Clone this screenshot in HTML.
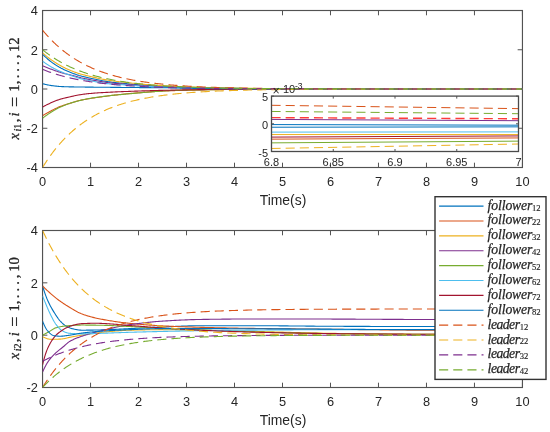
<!DOCTYPE html>
<html><head><meta charset="utf-8"><title>plot</title><style>
html,body{margin:0;padding:0;background:#fff;width:550px;height:432px;overflow:hidden}
svg{display:block;font-family:"Liberation Sans",Arial,sans-serif}
.tl{font-size:12.8px;fill:#262626}
.xl{font-size:13.9px;fill:#262626}
.yl{font-family:"Liberation Serif","DejaVu Serif",serif;font-size:14.6px;fill:#262626;stroke:#262626;stroke-width:0.3px}
.it{font-style:italic}
.ys{font-family:"Liberation Serif",serif;font-size:10.2px;fill:#262626;stroke:#262626;stroke-width:0.25px}
.eq{font-size:19px;stroke-width:0.15px}
.li{font-family:"Liberation Serif","DejaVu Serif",serif;font-style:italic;font-size:13.7px;fill:#262626;stroke:#262626;stroke-width:0.25px}
.sub{font-family:"Liberation Serif",serif;font-size:8.6px;fill:#262626;stroke:#262626;stroke-width:0.15px}
</style></head><body>
<svg width="550" height="432" viewBox="0 0 550 432">
<defs><clipPath id="ct"><rect x="42.55" y="10.50" width="479.90" height="157.00"/></clipPath>
<clipPath id="cb"><rect x="42.55" y="230.50" width="479.90" height="157.00"/></clipPath></defs>
<rect width="550" height="432" fill="#fff"/>
<path d="M42.55 167.50 V162.70 M42.55 10.50 V15.30 M90.54 167.50 V162.70 M90.54 10.50 V15.30 M138.53 167.50 V162.70 M138.53 10.50 V15.30 M186.52 167.50 V162.70 M186.52 10.50 V15.30 M234.51 167.50 V162.70 M234.51 10.50 V15.30 M282.50 167.50 V162.70 M282.50 10.50 V15.30 M330.49 167.50 V162.70 M330.49 10.50 V15.30 M378.48 167.50 V162.70 M378.48 10.50 V15.30 M426.47 167.50 V162.70 M426.47 10.50 V15.30 M474.46 167.50 V162.70 M474.46 10.50 V15.30 M522.45 167.50 V162.70 M522.45 10.50 V15.30 M42.55 10.50 H47.35 M522.45 10.50 H517.65 M42.55 49.75 H47.35 M522.45 49.75 H517.65 M42.55 89.00 H47.35 M522.45 89.00 H517.65 M42.55 128.25 H47.35 M522.45 128.25 H517.65 M42.55 167.50 H47.35 M522.45 167.50 H517.65" stroke="#525252" stroke-width="1" fill="none"/>
<rect x="42.55" y="10.50" width="479.90" height="157.00" fill="none" stroke="#525252" stroke-width="1.15"/>
<g fill="none" clip-path="url(#ct)" stroke-linejoin="round">
<path d="M42.55 54.26 L43.15 54.85 43.75 55.43 44.35 56.00 44.95 56.57 45.55 57.12 46.15 57.67 46.75 58.21 47.35 58.73 47.95 59.25 48.55 59.76 49.15 60.26 49.75 60.74 50.35 61.21 50.95 61.68 51.55 62.13 52.15 62.57 52.75 62.99 53.35 63.41 53.95 63.82 54.55 64.22 55.15 64.62 55.75 65.01 56.35 65.39 56.95 65.76 57.55 66.13 58.15 66.49 58.75 66.84 59.35 67.19 59.95 67.52 60.55 67.85 61.15 68.18 61.75 68.49 62.35 68.80 62.95 69.10 63.55 69.40 64.15 69.69 64.75 69.97 65.35 70.25 65.95 70.53 66.55 70.80 67.14 71.06 67.74 71.32 68.34 71.57 68.94 71.82 69.54 72.07 70.14 72.31 70.74 72.55 71.34 72.78 71.94 73.01 72.54 73.23 73.14 73.45 73.74 73.67 74.34 73.89 74.94 74.10 75.54 74.31 76.14 74.52 76.74 74.73 77.34 74.93 77.94 75.12 78.54 75.31 79.14 75.50 79.74 75.67 80.34 75.84 80.94 76.00 81.54 76.16 82.14 76.30 82.74 76.44 83.34 76.58 83.94 76.73 84.54 76.87 85.14 77.01 85.74 77.15 86.34 77.29 86.94 77.43 87.54 77.57 88.14 77.70 88.74 77.84 89.34 77.98 89.94 78.11 90.54 78.25 91.74 78.52 92.94 78.78 94.14 79.04 95.34 79.30 96.54 79.55 97.74 79.79 98.94 80.03 100.14 80.27 101.34 80.49 102.54 80.72 103.74 80.93 104.94 81.14 106.14 81.34 107.34 81.53 108.54 81.71 109.74 81.89 110.94 82.05 112.14 82.21 113.34 82.36 114.53 82.50 115.73 82.62 116.93 82.74 118.13 82.84 119.33 82.94 120.53 83.02 121.73 83.09 122.93 83.20 124.13 83.33 125.33 83.47 126.53 83.59 127.73 83.72 128.93 83.85 130.13 83.97 131.33 84.08 132.53 84.20 133.73 84.31 134.93 84.42 136.13 84.53 137.33 84.64 138.53 84.74 139.73 84.84 140.93 84.94 142.13 85.03 143.33 85.12 144.53 85.21 145.73 85.30 146.93 85.39 148.13 85.48 149.33 85.56 150.53 85.64 151.73 85.72 152.93 85.79 154.13 85.87 155.33 85.94 156.53 86.02 157.73 86.09 158.93 86.15 160.13 86.22 161.33 86.29 162.52 86.35 163.72 86.41 164.92 86.47 166.12 86.53 167.32 86.59 168.52 86.65 169.72 86.70 170.92 86.76 172.12 86.81 173.32 86.86 174.52 86.91 175.72 86.96 176.92 87.01 178.12 87.05 179.32 87.10 180.52 87.14 181.72 87.19 182.92 87.23 184.12 87.27 185.32 87.31 186.52 87.35 188.92 87.43 191.32 87.50 193.72 87.57 196.12 87.64 198.52 87.70 200.92 87.76 203.32 87.82 205.72 87.87 208.12 87.92 210.51 87.97 212.91 88.02 215.31 88.07 217.71 88.11 220.11 88.15 222.51 88.19 224.91 88.23 227.31 88.26 229.71 88.30 232.11 88.33 234.51 88.36 236.91 88.39 239.31 88.42 241.71 88.45 244.11 88.47 246.51 88.50 248.91 88.52 251.31 88.54 253.71 88.56 256.11 88.58 258.50 88.60 260.90 88.62 263.30 88.64 265.70 88.66 268.10 88.67 270.50 88.69 272.90 88.70 275.30 88.72 277.70 88.73 280.10 88.74 282.50 88.75 284.90 88.76 287.30 88.78 289.70 88.79 292.10 88.80 294.50 88.81 296.90 88.81 299.30 88.82 301.70 88.83 304.10 88.84 306.50 88.85 308.89 88.85 311.29 88.86 313.69 88.87 316.09 88.87 318.49 88.88 320.89 88.88 323.29 88.89 325.69 88.90 328.09 88.90 330.49 88.90 332.89 88.91 335.29 88.91 337.69 88.92 340.09 88.92 342.49 88.92 344.89 88.93 347.29 88.93 349.69 88.93 352.09 88.94 354.49 88.94 356.88 88.94 359.28 88.95 361.68 88.95 364.08 88.95 366.48 88.95 368.88 88.96 371.28 88.96 373.68 88.96 376.08 88.96 378.48 88.96 380.88 88.96 383.28 88.97 385.68 88.97 388.08 88.97 390.48 88.97 392.88 88.97 395.28 88.97 397.68 88.97 400.08 88.98 402.48 88.98 404.87 88.98 407.27 88.98 409.67 88.98 412.07 88.98 414.47 88.98 416.87 88.98 419.27 88.98 421.67 88.98 424.07 88.99 426.47 88.99 428.87 88.99 431.27 88.99 433.67 88.99 436.07 88.99 438.47 88.99 440.87 88.99 443.27 88.99 445.67 88.99 448.07 88.99 450.47 88.99 452.86 88.99 455.26 88.99 457.66 88.99 460.06 88.99 462.46 88.99 464.86 88.99 467.26 88.99 469.66 88.99 472.06 88.99 474.46 88.99 476.86 88.99 479.26 88.99 481.66 89.00 484.06 89.00 486.46 89.00 488.86 89.00 491.26 89.00 493.66 89.00 496.06 89.00 498.46 89.00 500.85 89.00 503.25 89.00 505.65 89.00 508.05 89.00 510.45 89.00 512.85 89.00 515.25 89.00 517.65 89.00 520.05 89.00 522.45 89.00" stroke="#0072BD" stroke-width="1.10"/>
<path d="M42.55 115.69 L43.15 115.32 43.75 114.96 44.35 114.60 44.95 114.25 45.55 113.89 46.15 113.54 46.75 113.20 47.35 112.86 47.95 112.52 48.55 112.19 49.15 111.86 49.75 111.54 50.35 111.22 50.95 110.91 51.55 110.60 52.15 110.29 52.75 109.98 53.35 109.67 53.95 109.37 54.55 109.07 55.15 108.77 55.75 108.48 56.35 108.19 56.95 107.91 57.55 107.63 58.15 107.36 58.75 107.10 59.35 106.85 59.95 106.61 60.55 106.37 61.15 106.15 61.75 105.93 62.35 105.72 62.95 105.51 63.55 105.31 64.15 105.11 64.75 104.92 65.35 104.73 65.95 104.55 66.55 104.36 67.14 104.18 67.74 103.99 68.34 103.81 68.94 103.62 69.54 103.44 70.14 103.25 70.74 103.06 71.34 102.87 71.94 102.67 72.54 102.48 73.14 102.28 73.74 102.09 74.34 101.90 74.94 101.71 75.54 101.52 76.14 101.34 76.74 101.17 77.34 101.00 77.94 100.84 78.54 100.69 79.14 100.55 79.74 100.42 80.34 100.28 80.94 100.16 81.54 100.03 82.14 99.91 82.74 99.79 83.34 99.67 83.94 99.56 84.54 99.45 85.14 99.34 85.74 99.23 86.34 99.13 86.94 99.03 87.54 98.93 88.14 98.83 88.74 98.73 89.34 98.63 89.94 98.54 90.54 98.45 91.74 98.26 92.94 98.08 94.14 97.90 95.34 97.72 96.54 97.54 97.74 97.37 98.94 97.19 100.14 97.02 101.34 96.85 102.54 96.68 103.74 96.52 104.94 96.35 106.14 96.19 107.34 96.03 108.54 95.87 109.74 95.72 110.94 95.57 112.14 95.42 113.34 95.27 114.53 95.12 115.73 94.98 116.93 94.84 118.13 94.70 119.33 94.57 120.53 94.44 121.73 94.31 122.93 94.18 124.13 94.06 125.33 93.94 126.53 93.82 127.73 93.71 128.93 93.60 130.13 93.49 131.33 93.39 132.53 93.28 133.73 93.18 134.93 93.08 136.13 92.98 137.33 92.87 138.53 92.78 139.73 92.68 140.93 92.58 142.13 92.49 143.33 92.39 144.53 92.30 145.73 92.21 146.93 92.12 148.13 92.03 149.33 91.94 150.53 91.86 151.73 91.78 152.93 91.70 154.13 91.62 155.33 91.54 156.53 91.46 157.73 91.39 158.93 91.32 160.13 91.25 161.33 91.18 162.52 91.12 163.72 91.06 164.92 91.00 166.12 90.94 167.32 90.89 168.52 90.83 169.72 90.79 170.92 90.74 172.12 90.70 173.32 90.66 174.52 90.61 175.72 90.57 176.92 90.54 178.12 90.50 179.32 90.46 180.52 90.42 181.72 90.39 182.92 90.36 184.12 90.32 185.32 90.29 186.52 90.26 188.92 90.20 191.32 90.14 193.72 90.08 196.12 90.03 198.52 89.98 200.92 89.93 203.32 89.89 205.72 89.84 208.12 89.80 210.51 89.76 212.91 89.73 215.31 89.69 217.71 89.66 220.11 89.62 222.51 89.59 224.91 89.56 227.31 89.54 229.71 89.51 232.11 89.49 234.51 89.46 236.91 89.44 239.31 89.42 241.71 89.40 244.11 89.38 246.51 89.36 248.91 89.34 251.31 89.33 253.71 89.31 256.11 89.29 258.50 89.28 260.90 89.27 263.30 89.25 265.70 89.24 268.10 89.23 270.50 89.22 272.90 89.21 275.30 89.20 277.70 89.19 280.10 89.18 282.50 89.17 284.90 89.16 287.30 89.15 289.70 89.15 292.10 89.14 294.50 89.13 296.90 89.13 299.30 89.12 301.70 89.11 304.10 89.11 306.50 89.10 308.89 89.10 311.29 89.09 313.69 89.09 316.09 89.08 318.49 89.08 320.89 89.08 323.29 89.07 325.69 89.07 328.09 89.07 330.49 89.06 332.89 89.06 335.29 89.06 337.69 89.05 340.09 89.05 342.49 89.05 344.89 89.05 347.29 89.04 349.69 89.04 352.09 89.04 354.49 89.04 356.88 89.04 359.28 89.03 361.68 89.03 364.08 89.03 366.48 89.03 368.88 89.03 371.28 89.03 373.68 89.03 376.08 89.02 378.48 89.02 380.88 89.02 383.28 89.02 385.68 89.02 388.08 89.02 390.48 89.02 392.88 89.02 395.28 89.02 397.68 89.02 400.08 89.01 402.48 89.01 404.87 89.01 407.27 89.01 409.67 89.01 412.07 89.01 414.47 89.01 416.87 89.01 419.27 89.01 421.67 89.01 424.07 89.01 426.47 89.01 428.87 89.01 431.27 89.01 433.67 89.01 436.07 89.01 438.47 89.01 440.87 89.01 443.27 89.01 445.67 89.01 448.07 89.01 450.47 89.01 452.86 89.00 455.26 89.00 457.66 89.00 460.06 89.00 462.46 89.00 464.86 89.00 467.26 89.00 469.66 89.00 472.06 89.00 474.46 89.00 476.86 89.00 479.26 89.00 481.66 89.00 484.06 89.00 486.46 89.00 488.86 89.00 491.26 89.00 493.66 89.00 496.06 89.00 498.46 89.00 500.85 89.00 503.25 89.00 505.65 89.00 508.05 89.00 510.45 89.00 512.85 89.00 515.25 89.00 517.65 89.00 520.05 89.00 522.45 89.00" stroke="#D95319" stroke-width="1.10"/>
<path d="M42.55 52.89 L43.15 53.41 43.75 53.92 44.35 54.43 44.95 54.93 45.55 55.42 46.15 55.91 46.75 56.39 47.35 56.87 47.95 57.33 48.55 57.80 49.15 58.25 49.75 58.70 50.35 59.14 50.95 59.57 51.55 60.00 52.15 60.41 52.75 60.82 53.35 61.23 53.95 61.63 54.55 62.02 55.15 62.41 55.75 62.80 56.35 63.18 56.95 63.55 57.55 63.92 58.15 64.28 58.75 64.64 59.35 64.99 59.95 65.33 60.55 65.67 61.15 66.00 61.75 66.32 62.35 66.64 62.95 66.95 63.55 67.25 64.15 67.55 64.75 67.85 65.35 68.14 65.95 68.42 66.55 68.70 67.14 68.98 67.74 69.25 68.34 69.52 68.94 69.78 69.54 70.04 70.14 70.29 70.74 70.54 71.34 70.79 71.94 71.02 72.54 71.26 73.14 71.49 73.74 71.71 74.34 71.94 74.94 72.16 75.54 72.38 76.14 72.59 76.74 72.80 77.34 73.01 77.94 73.21 78.54 73.41 79.14 73.60 79.74 73.78 80.34 73.96 80.94 74.12 81.54 74.29 82.14 74.44 82.74 74.59 83.34 74.74 83.94 74.90 84.54 75.05 85.14 75.20 85.74 75.35 86.34 75.50 86.94 75.64 87.54 75.79 88.14 75.94 88.74 76.09 89.34 76.23 89.94 76.38 90.54 76.52 91.74 76.81 92.94 77.09 94.14 77.37 95.34 77.64 96.54 77.91 97.74 78.18 98.94 78.44 100.14 78.69 101.34 78.94 102.54 79.18 103.74 79.41 104.94 79.64 106.14 79.86 107.34 80.07 108.54 80.27 109.74 80.47 110.94 80.66 112.14 80.83 113.34 81.00 114.53 81.16 115.73 81.31 116.93 81.45 118.13 81.58 119.33 81.70 120.53 81.81 121.73 81.90 122.93 82.03 124.13 82.18 125.33 82.34 126.53 82.48 127.73 82.63 128.93 82.77 130.13 82.91 131.33 83.05 132.53 83.18 133.73 83.31 134.93 83.43 136.13 83.56 137.33 83.68 138.53 83.80 139.73 83.91 140.93 84.03 142.13 84.14 143.33 84.25 144.53 84.35 145.73 84.45 146.93 84.56 148.13 84.65 149.33 84.75 150.53 84.85 151.73 84.94 152.93 85.03 154.13 85.12 155.33 85.20 156.53 85.29 157.73 85.37 158.93 85.45 160.13 85.53 161.33 85.61 162.52 85.68 163.72 85.76 164.92 85.83 166.12 85.90 167.32 85.97 168.52 86.04 169.72 86.10 170.92 86.17 172.12 86.23 173.32 86.29 174.52 86.35 175.72 86.41 176.92 86.47 178.12 86.52 179.32 86.58 180.52 86.63 181.72 86.69 182.92 86.74 184.12 86.79 185.32 86.84 186.52 86.88 188.92 86.98 191.32 87.07 193.72 87.15 196.12 87.23 198.52 87.31 200.92 87.39 203.32 87.46 205.72 87.52 208.12 87.59 210.51 87.65 212.91 87.71 215.31 87.77 217.71 87.82 220.11 87.87 222.51 87.92 224.91 87.97 227.31 88.02 229.71 88.06 232.11 88.10 234.51 88.14 236.91 88.18 239.31 88.21 241.71 88.25 244.11 88.28 246.51 88.31 248.91 88.34 251.31 88.37 253.71 88.40 256.11 88.43 258.50 88.45 260.90 88.48 263.30 88.50 265.70 88.52 268.10 88.54 270.50 88.56 272.90 88.58 275.30 88.60 277.70 88.62 280.10 88.63 282.50 88.65 284.90 88.67 287.30 88.68 289.70 88.69 292.10 88.71 294.50 88.72 296.90 88.73 299.30 88.74 301.70 88.76 304.10 88.77 306.50 88.78 308.89 88.79 311.29 88.80 313.69 88.81 316.09 88.81 318.49 88.82 320.89 88.83 323.29 88.84 325.69 88.84 328.09 88.85 330.49 88.86 332.89 88.86 335.29 88.87 337.69 88.88 340.09 88.88 342.49 88.89 344.89 88.89 347.29 88.90 349.69 88.90 352.09 88.91 354.49 88.91 356.88 88.91 359.28 88.92 361.68 88.92 364.08 88.92 366.48 88.93 368.88 88.93 371.28 88.93 373.68 88.94 376.08 88.94 378.48 88.94 380.88 88.94 383.28 88.95 385.68 88.95 388.08 88.95 390.48 88.95 392.88 88.96 395.28 88.96 397.68 88.96 400.08 88.96 402.48 88.96 404.87 88.96 407.27 88.97 409.67 88.97 412.07 88.97 414.47 88.97 416.87 88.97 419.27 88.97 421.67 88.97 424.07 88.98 426.47 88.98 428.87 88.98 431.27 88.98 433.67 88.98 436.07 88.98 438.47 88.98 440.87 88.98 443.27 88.98 445.67 88.98 448.07 88.98 450.47 88.99 452.86 88.99 455.26 88.99 457.66 88.99 460.06 88.99 462.46 88.99 464.86 88.99 467.26 88.99 469.66 88.99 472.06 88.99 474.46 88.99 476.86 88.99 479.26 88.99 481.66 88.99 484.06 88.99 486.46 88.99 488.86 88.99 491.26 88.99 493.66 88.99 496.06 88.99 498.46 88.99 500.85 88.99 503.25 88.99 505.65 88.99 508.05 88.99 510.45 89.00 512.85 89.00 515.25 89.00 517.65 89.00 520.05 89.00 522.45 89.00" stroke="#EDB120" stroke-width="1.10"/>
<path d="M42.55 65.84 L43.15 66.09 43.75 66.34 44.35 66.58 44.95 66.82 45.55 67.06 46.15 67.30 46.75 67.54 47.35 67.77 47.95 68.00 48.55 68.23 49.15 68.46 49.75 68.69 50.35 68.91 50.95 69.13 51.55 69.35 52.15 69.57 52.75 69.79 53.35 70.00 53.95 70.22 54.55 70.43 55.15 70.65 55.75 70.86 56.35 71.07 56.95 71.28 57.55 71.48 58.15 71.69 58.75 71.89 59.35 72.08 59.95 72.28 60.55 72.46 61.15 72.65 61.75 72.83 62.35 73.00 62.95 73.17 63.55 73.33 64.15 73.49 64.75 73.64 65.35 73.79 65.95 73.94 66.55 74.08 67.14 74.22 67.74 74.36 68.34 74.49 68.94 74.63 69.54 74.77 70.14 74.90 70.74 75.04 71.34 75.18 71.94 75.33 72.54 75.47 73.14 75.62 73.74 75.78 74.34 75.94 74.94 76.11 75.54 76.29 76.14 76.46 76.74 76.64 77.34 76.82 77.94 77.00 78.54 77.17 79.14 77.34 79.74 77.50 80.34 77.65 80.94 77.80 81.54 77.93 82.14 78.06 82.74 78.18 83.34 78.30 83.94 78.42 84.54 78.54 85.14 78.67 85.74 78.79 86.34 78.91 86.94 79.02 87.54 79.14 88.14 79.26 88.74 79.38 89.34 79.50 89.94 79.61 90.54 79.73 91.74 79.96 92.94 80.19 94.14 80.41 95.34 80.63 96.54 80.84 97.74 81.05 98.94 81.26 100.14 81.46 101.34 81.65 102.54 81.84 103.74 82.03 104.94 82.21 106.14 82.38 107.34 82.54 108.54 82.70 109.74 82.85 110.94 82.99 112.14 83.13 113.34 83.25 114.53 83.37 115.73 83.48 116.93 83.58 118.13 83.67 119.33 83.75 120.53 83.82 121.73 83.88 122.93 83.97 124.13 84.09 125.33 84.20 126.53 84.32 127.73 84.43 128.93 84.53 130.13 84.64 131.33 84.74 132.53 84.84 133.73 84.94 134.93 85.03 136.13 85.13 137.33 85.22 138.53 85.31 139.73 85.39 140.93 85.48 142.13 85.56 143.33 85.64 144.53 85.72 145.73 85.80 146.93 85.87 148.13 85.95 149.33 86.02 150.53 86.09 151.73 86.16 152.93 86.22 154.13 86.29 155.33 86.35 156.53 86.41 157.73 86.47 158.93 86.53 160.13 86.59 161.33 86.65 162.52 86.70 163.72 86.76 164.92 86.81 166.12 86.86 167.32 86.91 168.52 86.96 169.72 87.01 170.92 87.05 172.12 87.10 173.32 87.14 174.52 87.19 175.72 87.23 176.92 87.27 178.12 87.31 179.32 87.35 180.52 87.39 181.72 87.43 182.92 87.47 184.12 87.50 185.32 87.54 186.52 87.57 188.92 87.64 191.32 87.70 193.72 87.76 196.12 87.82 198.52 87.87 200.92 87.93 203.32 87.98 205.72 88.02 208.12 88.07 210.51 88.11 212.91 88.15 215.31 88.19 217.71 88.23 220.11 88.27 222.51 88.30 224.91 88.33 227.31 88.36 229.71 88.39 232.11 88.42 234.51 88.45 236.91 88.47 239.31 88.50 241.71 88.52 244.11 88.54 246.51 88.56 248.91 88.58 251.31 88.60 253.71 88.62 256.11 88.64 258.50 88.66 260.90 88.67 263.30 88.69 265.70 88.70 268.10 88.72 270.50 88.73 272.90 88.74 275.30 88.75 277.70 88.77 280.10 88.78 282.50 88.79 284.90 88.80 287.30 88.81 289.70 88.81 292.10 88.82 294.50 88.83 296.90 88.84 299.30 88.85 301.70 88.85 304.10 88.86 306.50 88.87 308.89 88.87 311.29 88.88 313.69 88.88 316.09 88.89 318.49 88.90 320.89 88.90 323.29 88.90 325.69 88.91 328.09 88.91 330.49 88.92 332.89 88.92 335.29 88.92 337.69 88.93 340.09 88.93 342.49 88.93 344.89 88.94 347.29 88.94 349.69 88.94 352.09 88.95 354.49 88.95 356.88 88.95 359.28 88.95 361.68 88.96 364.08 88.96 366.48 88.96 368.88 88.96 371.28 88.96 373.68 88.96 376.08 88.97 378.48 88.97 380.88 88.97 383.28 88.97 385.68 88.97 388.08 88.97 390.48 88.97 392.88 88.98 395.28 88.98 397.68 88.98 400.08 88.98 402.48 88.98 404.87 88.98 407.27 88.98 409.67 88.98 412.07 88.98 414.47 88.98 416.87 88.99 419.27 88.99 421.67 88.99 424.07 88.99 426.47 88.99 428.87 88.99 431.27 88.99 433.67 88.99 436.07 88.99 438.47 88.99 440.87 88.99 443.27 88.99 445.67 88.99 448.07 88.99 450.47 88.99 452.86 88.99 455.26 88.99 457.66 88.99 460.06 88.99 462.46 88.99 464.86 88.99 467.26 88.99 469.66 88.99 472.06 88.99 474.46 89.00 476.86 89.00 479.26 89.00 481.66 89.00 484.06 89.00 486.46 89.00 488.86 89.00 491.26 89.00 493.66 89.00 496.06 89.00 498.46 89.00 500.85 89.00 503.25 89.00 505.65 89.00 508.05 89.00 510.45 89.00 512.85 89.00 515.25 89.00 517.65 89.00 520.05 89.00 522.45 89.00" stroke="#7E2F8E" stroke-width="1.10"/>
<path d="M42.55 118.24 L43.15 117.78 43.75 117.32 44.35 116.87 44.95 116.42 45.55 115.98 46.15 115.55 46.75 115.12 47.35 114.70 47.95 114.28 48.55 113.88 49.15 113.47 49.75 113.08 50.35 112.69 50.95 112.31 51.55 111.93 52.15 111.56 52.75 111.19 53.35 110.83 53.95 110.47 54.55 110.11 55.15 109.76 55.75 109.42 56.35 109.08 56.95 108.75 57.55 108.43 58.15 108.11 58.75 107.81 59.35 107.51 59.95 107.22 60.55 106.95 61.15 106.67 61.75 106.41 62.35 106.14 62.95 105.89 63.55 105.64 64.15 105.39 64.75 105.15 65.35 104.91 65.95 104.68 66.55 104.46 67.14 104.24 67.74 104.03 68.34 103.83 68.94 103.63 69.54 103.44 70.14 103.25 70.74 103.07 71.34 102.89 71.94 102.71 72.54 102.53 73.14 102.36 73.74 102.19 74.34 102.02 74.94 101.85 75.54 101.68 76.14 101.51 76.74 101.35 77.34 101.19 77.94 101.03 78.54 100.88 79.14 100.72 79.74 100.57 80.34 100.42 80.94 100.27 81.54 100.13 82.14 99.98 82.74 99.84 83.34 99.71 83.94 99.57 84.54 99.44 85.14 99.31 85.74 99.18 86.34 99.06 86.94 98.94 87.54 98.82 88.14 98.70 88.74 98.59 89.34 98.48 89.94 98.37 90.54 98.27 91.74 98.07 92.94 97.88 94.14 97.69 95.34 97.51 96.54 97.34 97.74 97.17 98.94 97.00 100.14 96.84 101.34 96.68 102.54 96.53 103.74 96.38 104.94 96.23 106.14 96.09 107.34 95.95 108.54 95.82 109.74 95.68 110.94 95.55 112.14 95.42 113.34 95.30 114.53 95.17 115.73 95.05 116.93 94.93 118.13 94.82 119.33 94.70 120.53 94.58 121.73 94.47 122.93 94.36 124.13 94.24 125.33 94.13 126.53 94.02 127.73 93.91 128.93 93.80 130.13 93.69 131.33 93.58 132.53 93.47 133.73 93.36 134.93 93.25 136.13 93.14 137.33 93.04 138.53 92.93 139.73 92.83 140.93 92.72 142.13 92.62 143.33 92.52 144.53 92.42 145.73 92.32 146.93 92.22 148.13 92.12 149.33 92.03 150.53 91.93 151.73 91.84 152.93 91.75 154.13 91.66 155.33 91.57 156.53 91.48 157.73 91.39 158.93 91.31 160.13 91.22 161.33 91.14 162.52 91.06 163.72 90.98 164.92 90.90 166.12 90.82 167.32 90.75 168.52 90.67 169.72 90.60 170.92 90.55 172.12 90.51 173.32 90.47 174.52 90.43 175.72 90.40 176.92 90.36 178.12 90.33 179.32 90.30 180.52 90.27 181.72 90.24 182.92 90.20 184.12 90.17 185.32 90.15 186.52 90.12 188.92 90.06 191.32 90.01 193.72 89.96 196.12 89.91 198.52 89.87 200.92 89.83 203.32 89.79 205.72 89.75 208.12 89.71 210.51 89.68 212.91 89.64 215.31 89.61 217.71 89.58 220.11 89.55 222.51 89.53 224.91 89.50 227.31 89.48 229.71 89.45 232.11 89.43 234.51 89.41 236.91 89.39 239.31 89.37 241.71 89.35 244.11 89.34 246.51 89.32 248.91 89.30 251.31 89.29 253.71 89.28 256.11 89.26 258.50 89.25 260.90 89.24 263.30 89.23 265.70 89.21 268.10 89.20 270.50 89.19 272.90 89.18 275.30 89.18 277.70 89.17 280.10 89.16 282.50 89.15 284.90 89.14 287.30 89.14 289.70 89.13 292.10 89.12 294.50 89.12 296.90 89.11 299.30 89.11 301.70 89.10 304.10 89.10 306.50 89.09 308.89 89.09 311.29 89.08 313.69 89.08 316.09 89.08 318.49 89.07 320.89 89.07 323.29 89.06 325.69 89.06 328.09 89.06 330.49 89.06 332.89 89.05 335.29 89.05 337.69 89.05 340.09 89.05 342.49 89.04 344.89 89.04 347.29 89.04 349.69 89.04 352.09 89.04 354.49 89.03 356.88 89.03 359.28 89.03 361.68 89.03 364.08 89.03 366.48 89.03 368.88 89.02 371.28 89.02 373.68 89.02 376.08 89.02 378.48 89.02 380.88 89.02 383.28 89.02 385.68 89.02 388.08 89.02 390.48 89.02 392.88 89.02 395.28 89.01 397.68 89.01 400.08 89.01 402.48 89.01 404.87 89.01 407.27 89.01 409.67 89.01 412.07 89.01 414.47 89.01 416.87 89.01 419.27 89.01 421.67 89.01 424.07 89.01 426.47 89.01 428.87 89.01 431.27 89.01 433.67 89.01 436.07 89.01 438.47 89.01 440.87 89.01 443.27 89.01 445.67 89.01 448.07 89.00 450.47 89.00 452.86 89.00 455.26 89.00 457.66 89.00 460.06 89.00 462.46 89.00 464.86 89.00 467.26 89.00 469.66 89.00 472.06 89.00 474.46 89.00 476.86 89.00 479.26 89.00 481.66 89.00 484.06 89.00 486.46 89.00 488.86 89.00 491.26 89.00 493.66 89.00 496.06 89.00 498.46 89.00 500.85 89.00 503.25 89.00 505.65 89.00 508.05 89.00 510.45 89.00 512.85 89.00 515.25 89.00 517.65 89.00 520.05 89.00 522.45 89.00" stroke="#77AC30" stroke-width="1.10"/>
<path d="M42.55 61.13 L43.15 61.57 43.75 62.01 44.35 62.43 44.95 62.86 45.55 63.27 46.15 63.68 46.75 64.09 47.35 64.49 47.95 64.88 48.55 65.26 49.15 65.64 49.75 66.01 50.35 66.37 50.95 66.73 51.55 67.07 52.15 67.41 52.75 67.74 53.35 68.07 53.95 68.39 54.55 68.71 55.15 69.02 55.75 69.33 56.35 69.63 56.95 69.93 57.55 70.22 58.15 70.51 58.75 70.79 59.35 71.06 59.95 71.33 60.55 71.60 61.15 71.86 61.75 72.12 62.35 72.37 62.95 72.61 63.55 72.85 64.15 73.09 64.75 73.31 65.35 73.54 65.95 73.76 66.55 73.97 67.14 74.19 67.74 74.39 68.34 74.60 68.94 74.80 69.54 75.01 70.14 75.21 70.74 75.41 71.34 75.61 71.94 75.80 72.54 76.00 73.14 76.20 73.74 76.41 74.34 76.61 74.94 76.82 75.54 77.04 76.14 77.25 76.74 77.46 77.34 77.67 77.94 77.87 78.54 78.07 79.14 78.26 79.74 78.44 80.34 78.61 80.94 78.77 81.54 78.91 82.14 79.04 82.74 79.17 83.34 79.30 83.94 79.43 84.54 79.55 85.14 79.68 85.74 79.81 86.34 79.93 86.94 80.06 87.54 80.18 88.14 80.31 88.74 80.43 89.34 80.56 89.94 80.68 90.54 80.80 91.74 81.04 92.94 81.28 94.14 81.51 95.34 81.74 96.54 81.96 97.74 82.18 98.94 82.39 100.14 82.60 101.34 82.80 102.54 82.99 103.74 83.17 104.94 83.34 106.14 83.51 107.34 83.67 108.54 83.82 109.74 83.95 110.94 84.08 112.14 84.20 113.34 84.30 114.53 84.39 115.73 84.48 116.93 84.54 118.13 84.60 119.33 84.64 120.53 84.67 121.73 84.68 122.93 84.75 124.13 84.85 125.33 84.95 126.53 85.05 127.73 85.15 128.93 85.25 130.13 85.34 131.33 85.43 132.53 85.52 133.73 85.60 134.93 85.69 136.13 85.77 137.33 85.85 138.53 85.93 139.73 86.00 140.93 86.08 142.13 86.15 143.33 86.22 144.53 86.29 145.73 86.35 146.93 86.42 148.13 86.48 149.33 86.55 150.53 86.61 151.73 86.67 152.93 86.72 154.13 86.78 155.33 86.83 156.53 86.89 157.73 86.94 158.93 86.99 160.13 87.04 161.33 87.09 162.52 87.14 163.72 87.18 164.92 87.23 166.12 87.27 167.32 87.31 168.52 87.36 169.72 87.40 170.92 87.44 172.12 87.47 173.32 87.51 174.52 87.55 175.72 87.58 176.92 87.62 178.12 87.65 179.32 87.69 180.52 87.72 181.72 87.75 182.92 87.78 184.12 87.81 185.32 87.84 186.52 87.87 188.92 87.92 191.32 87.98 193.72 88.03 196.12 88.07 198.52 88.12 200.92 88.16 203.32 88.20 205.72 88.24 208.12 88.28 210.51 88.31 212.91 88.35 215.31 88.38 217.71 88.41 220.11 88.44 222.51 88.47 224.91 88.49 227.31 88.52 229.71 88.54 232.11 88.56 234.51 88.58 236.91 88.60 239.31 88.62 241.71 88.64 244.11 88.66 246.51 88.68 248.91 88.69 251.31 88.71 253.71 88.72 256.11 88.73 258.50 88.75 260.90 88.76 263.30 88.77 265.70 88.78 268.10 88.79 270.50 88.80 272.90 88.81 275.30 88.82 277.70 88.83 280.10 88.84 282.50 88.85 284.90 88.85 287.30 88.86 289.70 88.87 292.10 88.87 294.50 88.88 296.90 88.89 299.30 88.89 301.70 88.90 304.10 88.90 306.50 88.91 308.89 88.91 311.29 88.92 313.69 88.92 316.09 88.92 318.49 88.93 320.89 88.93 323.29 88.93 325.69 88.94 328.09 88.94 330.49 88.94 332.89 88.95 335.29 88.95 337.69 88.95 340.09 88.95 342.49 88.96 344.89 88.96 347.29 88.96 349.69 88.96 352.09 88.96 354.49 88.97 356.88 88.97 359.28 88.97 361.68 88.97 364.08 88.97 366.48 88.97 368.88 88.97 371.28 88.98 373.68 88.98 376.08 88.98 378.48 88.98 380.88 88.98 383.28 88.98 385.68 88.98 388.08 88.98 390.48 88.98 392.88 88.98 395.28 88.99 397.68 88.99 400.08 88.99 402.48 88.99 404.87 88.99 407.27 88.99 409.67 88.99 412.07 88.99 414.47 88.99 416.87 88.99 419.27 88.99 421.67 88.99 424.07 88.99 426.47 88.99 428.87 88.99 431.27 88.99 433.67 88.99 436.07 88.99 438.47 88.99 440.87 88.99 443.27 88.99 445.67 88.99 448.07 89.00 450.47 89.00 452.86 89.00 455.26 89.00 457.66 89.00 460.06 89.00 462.46 89.00 464.86 89.00 467.26 89.00 469.66 89.00 472.06 89.00 474.46 89.00 476.86 89.00 479.26 89.00 481.66 89.00 484.06 89.00 486.46 89.00 488.86 89.00 491.26 89.00 493.66 89.00 496.06 89.00 498.46 89.00 500.85 89.00 503.25 89.00 505.65 89.00 508.05 89.00 510.45 89.00 512.85 89.00 515.25 89.00 517.65 89.00 520.05 89.00 522.45 89.00" stroke="#4DBEEE" stroke-width="1.10"/>
<path d="M42.55 107.05 L43.15 106.72 43.75 106.40 44.35 106.08 44.95 105.76 45.55 105.44 46.15 105.13 46.75 104.83 47.35 104.53 47.95 104.24 48.55 103.95 49.15 103.66 49.75 103.38 50.35 103.11 50.95 102.84 51.55 102.58 52.15 102.32 52.75 102.06 53.35 101.80 53.95 101.55 54.55 101.30 55.15 101.06 55.75 100.82 56.35 100.58 56.95 100.35 57.55 100.13 58.15 99.91 58.75 99.71 59.35 99.51 59.95 99.32 60.55 99.13 61.15 98.96 61.75 98.79 62.35 98.63 62.95 98.47 63.55 98.32 64.15 98.17 64.75 98.03 65.35 97.89 65.95 97.75 66.55 97.61 67.14 97.47 67.74 97.34 68.34 97.20 68.94 97.07 69.54 96.93 70.14 96.79 70.74 96.66 71.34 96.51 71.94 96.37 72.54 96.23 73.14 96.09 73.74 95.95 74.34 95.81 74.94 95.68 75.54 95.55 76.14 95.42 76.74 95.30 77.34 95.18 77.94 95.07 78.54 94.97 79.14 94.87 79.74 94.78 80.34 94.68 80.94 94.59 81.54 94.51 82.14 94.42 82.74 94.33 83.34 94.25 83.94 94.17 84.54 94.09 85.14 94.02 85.74 93.94 86.34 93.87 86.94 93.80 87.54 93.74 88.14 93.67 88.74 93.61 89.34 93.55 89.94 93.49 90.54 93.44 91.74 93.34 92.94 93.24 94.14 93.15 95.34 93.07 96.54 92.98 97.74 92.90 98.94 92.82 100.14 92.75 101.34 92.67 102.54 92.60 103.74 92.53 104.94 92.46 106.14 92.39 107.34 92.33 108.54 92.27 109.74 92.21 110.94 92.15 112.14 92.09 113.34 92.03 114.53 91.98 115.73 91.92 116.93 91.87 118.13 91.82 119.33 91.77 120.53 91.72 121.73 91.67 122.93 91.62 124.13 91.57 125.33 91.53 126.53 91.48 127.73 91.44 128.93 91.39 130.13 91.35 131.33 91.30 132.53 91.26 133.73 91.21 134.93 91.17 136.13 91.13 137.33 91.08 138.53 91.04 139.73 91.00 140.93 90.96 142.13 90.92 143.33 90.88 144.53 90.84 145.73 90.80 146.93 90.76 148.13 90.72 149.33 90.69 150.53 90.65 151.73 90.62 152.93 90.58 154.13 90.55 155.33 90.51 156.53 90.48 157.73 90.45 158.93 90.42 160.13 90.39 161.33 90.36 162.52 90.33 163.72 90.31 164.92 90.28 166.12 90.26 167.32 90.23 168.52 90.21 169.72 90.19 170.92 90.16 172.12 90.13 173.32 90.10 174.52 90.08 175.72 90.05 176.92 90.02 178.12 90.00 179.32 89.97 180.52 89.95 181.72 89.93 182.92 89.90 184.12 89.88 185.32 89.86 186.52 89.84 188.92 89.80 191.32 89.76 193.72 89.72 196.12 89.69 198.52 89.65 200.92 89.62 203.32 89.59 205.72 89.56 208.12 89.53 210.51 89.51 212.91 89.48 215.31 89.46 217.71 89.44 220.11 89.42 222.51 89.40 224.91 89.38 227.31 89.36 229.71 89.34 232.11 89.32 234.51 89.31 236.91 89.29 239.31 89.28 241.71 89.27 244.11 89.25 246.51 89.24 248.91 89.23 251.31 89.22 253.71 89.21 256.11 89.20 258.50 89.19 260.90 89.18 263.30 89.17 265.70 89.16 268.10 89.15 270.50 89.15 272.90 89.14 275.30 89.13 277.70 89.13 280.10 89.12 282.50 89.11 284.90 89.11 287.30 89.10 289.70 89.10 292.10 89.09 294.50 89.09 296.90 89.08 299.30 89.08 301.70 89.08 304.10 89.07 306.50 89.07 308.89 89.07 311.29 89.06 313.69 89.06 316.09 89.06 318.49 89.05 320.89 89.05 323.29 89.05 325.69 89.05 328.09 89.04 330.49 89.04 332.89 89.04 335.29 89.04 337.69 89.04 340.09 89.03 342.49 89.03 344.89 89.03 347.29 89.03 349.69 89.03 352.09 89.03 354.49 89.03 356.88 89.02 359.28 89.02 361.68 89.02 364.08 89.02 366.48 89.02 368.88 89.02 371.28 89.02 373.68 89.02 376.08 89.02 378.48 89.02 380.88 89.01 383.28 89.01 385.68 89.01 388.08 89.01 390.48 89.01 392.88 89.01 395.28 89.01 397.68 89.01 400.08 89.01 402.48 89.01 404.87 89.01 407.27 89.01 409.67 89.01 412.07 89.01 414.47 89.01 416.87 89.01 419.27 89.01 421.67 89.01 424.07 89.01 426.47 89.01 428.87 89.01 431.27 89.01 433.67 89.00 436.07 89.00 438.47 89.00 440.87 89.00 443.27 89.00 445.67 89.00 448.07 89.00 450.47 89.00 452.86 89.00 455.26 89.00 457.66 89.00 460.06 89.00 462.46 89.00 464.86 89.00 467.26 89.00 469.66 89.00 472.06 89.00 474.46 89.00 476.86 89.00 479.26 89.00 481.66 89.00 484.06 89.00 486.46 89.00 488.86 89.00 491.26 89.00 493.66 89.00 496.06 89.00 498.46 89.00 500.85 89.00 503.25 89.00 505.65 89.00 508.05 89.00 510.45 89.00 512.85 89.00 515.25 89.00 517.65 89.00 520.05 89.00 522.45 89.00" stroke="#A2142F" stroke-width="1.10"/>
<path d="M42.55 83.70 L43.15 83.85 43.75 84.01 44.35 84.15 44.95 84.30 45.55 84.44 46.15 84.58 46.75 84.71 47.35 84.84 47.95 84.96 48.55 85.08 49.15 85.19 49.75 85.30 50.35 85.40 50.95 85.50 51.55 85.58 52.15 85.66 52.75 85.74 53.35 85.82 53.95 85.89 54.55 85.96 55.15 86.03 55.75 86.10 56.35 86.17 56.95 86.23 57.55 86.29 58.15 86.35 58.75 86.40 59.35 86.45 59.95 86.49 60.55 86.53 61.15 86.57 61.75 86.60 62.35 86.63 62.95 86.65 63.55 86.67 64.15 86.69 64.75 86.71 65.35 86.73 65.95 86.75 66.55 86.77 67.14 86.78 67.74 86.80 68.34 86.81 68.94 86.83 69.54 86.84 70.14 86.85 70.74 86.86 71.34 86.88 71.94 86.89 72.54 86.90 73.14 86.91 73.74 86.92 74.34 86.93 74.94 86.94 75.54 86.95 76.14 86.96 76.74 86.97 77.34 86.97 77.94 86.98 78.54 86.99 79.14 87.00 79.74 87.01 80.34 87.02 80.94 87.02 81.54 87.03 82.14 87.04 82.74 87.05 83.34 87.06 83.94 87.06 84.54 87.07 85.14 87.08 85.74 87.09 86.34 87.10 86.94 87.10 87.54 87.11 88.14 87.12 88.74 87.12 89.34 87.13 89.94 87.14 90.54 87.14 91.74 87.16 92.94 87.17 94.14 87.18 95.34 87.19 96.54 87.21 97.74 87.22 98.94 87.23 100.14 87.24 101.34 87.25 102.54 87.26 103.74 87.27 104.94 87.28 106.14 87.29 107.34 87.30 108.54 87.31 109.74 87.32 110.94 87.33 112.14 87.34 113.34 87.35 114.53 87.36 115.73 87.37 116.93 87.38 118.13 87.39 119.33 87.40 120.53 87.42 121.73 87.43 122.93 87.44 124.13 87.45 125.33 87.46 126.53 87.47 127.73 87.48 128.93 87.49 130.13 87.50 131.33 87.51 132.53 87.52 133.73 87.53 134.93 87.54 136.13 87.55 137.33 87.56 138.53 87.57 139.73 87.58 140.93 87.59 142.13 87.60 143.33 87.61 144.53 87.62 145.73 87.63 146.93 87.64 148.13 87.65 149.33 87.66 150.53 87.67 151.73 87.68 152.93 87.69 154.13 87.70 155.33 87.71 156.53 87.72 157.73 87.73 158.93 87.74 160.13 87.75 161.33 87.76 162.52 87.77 163.72 87.77 164.92 87.78 166.12 87.79 167.32 87.80 168.52 87.81 169.72 87.82 170.92 87.84 172.12 87.88 173.32 87.91 174.52 87.94 175.72 87.97 176.92 88.00 178.12 88.03 179.32 88.06 180.52 88.09 181.72 88.12 182.92 88.14 184.12 88.17 185.32 88.19 186.52 88.22 188.92 88.26 191.32 88.31 193.72 88.35 196.12 88.38 198.52 88.42 200.92 88.45 203.32 88.49 205.72 88.52 208.12 88.54 210.51 88.57 212.91 88.60 215.31 88.62 217.71 88.64 220.11 88.66 222.51 88.68 224.91 88.70 227.31 88.72 229.71 88.73 232.11 88.75 234.51 88.76 236.91 88.78 239.31 88.79 241.71 88.80 244.11 88.81 246.51 88.83 248.91 88.84 251.31 88.85 253.71 88.85 256.11 88.86 258.50 88.87 260.90 88.88 263.30 88.89 265.70 88.89 268.10 88.90 270.50 88.90 272.90 88.91 275.30 88.91 277.70 88.92 280.10 88.92 282.50 88.93 284.90 88.93 287.30 88.94 289.70 88.94 292.10 88.94 294.50 88.95 296.90 88.95 299.30 88.95 301.70 88.96 304.10 88.96 306.50 88.96 308.89 88.96 311.29 88.97 313.69 88.97 316.09 88.97 318.49 88.97 320.89 88.97 323.29 88.97 325.69 88.98 328.09 88.98 330.49 88.98 332.89 88.98 335.29 88.98 337.69 88.98 340.09 88.98 342.49 88.98 344.89 88.99 347.29 88.99 349.69 88.99 352.09 88.99 354.49 88.99 356.88 88.99 359.28 88.99 361.68 88.99 364.08 88.99 366.48 88.99 368.88 88.99 371.28 88.99 373.68 88.99 376.08 88.99 378.48 88.99 380.88 88.99 383.28 88.99 385.68 88.99 388.08 88.99 390.48 89.00 392.88 89.00 395.28 89.00 397.68 89.00 400.08 89.00 402.48 89.00 404.87 89.00 407.27 89.00 409.67 89.00 412.07 89.00 414.47 89.00 416.87 89.00 419.27 89.00 421.67 89.00 424.07 89.00 426.47 89.00 428.87 89.00 431.27 89.00 433.67 89.00 436.07 89.00 438.47 89.00 440.87 89.00 443.27 89.00 445.67 89.00 448.07 89.00 450.47 89.00 452.86 89.00 455.26 89.00 457.66 89.00 460.06 89.00 462.46 89.00 464.86 89.00 467.26 89.00 469.66 89.00 472.06 89.00 474.46 89.00 476.86 89.00 479.26 89.00 481.66 89.00 484.06 89.00 486.46 89.00 488.86 89.00 491.26 89.00 493.66 89.00 496.06 89.00 498.46 89.00 500.85 89.00 503.25 89.00 505.65 89.00 508.05 89.00 510.45 89.00 512.85 89.00 515.25 89.00 517.65 89.00 520.05 89.00 522.45 89.00" stroke="#0072BD" stroke-width="1.10"/>
<path d="M42.55 30.12 L43.15 30.86 43.75 31.58 44.35 32.29 44.95 33.00 45.55 33.69 46.15 34.38 46.75 35.06 47.35 35.73 47.95 36.39 48.55 37.04 49.15 37.69 49.75 38.33 50.35 38.96 50.95 39.58 51.55 40.19 52.15 40.80 52.75 41.40 53.35 41.99 53.95 42.57 54.55 43.15 55.15 43.72 55.75 44.28 56.35 44.84 56.95 45.38 57.55 45.93 58.15 46.46 58.75 46.99 59.35 47.51 59.95 48.03 60.55 48.54 61.15 49.04 61.75 49.53 62.35 50.03 62.95 50.51 63.55 50.99 64.15 51.46 64.75 51.93 65.35 52.39 65.95 52.84 66.55 53.29 67.14 53.73 67.74 54.17 68.34 54.60 68.94 55.03 69.54 55.45 70.14 55.87 70.74 56.28 71.34 56.69 71.94 57.09 72.54 57.49 73.14 57.88 73.74 58.26 74.34 58.65 74.94 59.02 75.54 59.40 76.14 59.76 76.74 60.13 77.34 60.49 77.94 60.84 78.54 61.19 79.14 61.53 79.74 61.88 80.34 62.21 80.94 62.55 81.54 62.87 82.14 63.20 82.74 63.52 83.34 63.84 83.94 64.15 84.54 64.46 85.14 64.76 85.74 65.06 86.34 65.36 86.94 65.65 87.54 65.94 88.14 66.23 88.74 66.51 89.34 66.79 89.94 67.07 90.54 67.34 91.74 67.88 92.94 68.40 94.14 68.91 95.34 69.40 96.54 69.89 97.74 70.36 98.94 70.82 100.14 71.27 101.34 71.71 102.54 72.13 103.74 72.55 104.94 72.95 106.14 73.35 107.34 73.74 108.54 74.11 109.74 74.48 110.94 74.84 112.14 75.19 113.34 75.53 114.53 75.86 115.73 76.19 116.93 76.50 118.13 76.81 119.33 77.11 120.53 77.41 121.73 77.69 122.93 77.97 124.13 78.24 125.33 78.51 126.53 78.77 127.73 79.02 128.93 79.27 130.13 79.51 131.33 79.74 132.53 79.97 133.73 80.19 134.93 80.41 136.13 80.62 137.33 80.83 138.53 81.03 139.73 81.23 140.93 81.42 142.13 81.61 143.33 81.79 144.53 81.97 145.73 82.14 146.93 82.31 148.13 82.48 149.33 82.64 150.53 82.79 151.73 82.95 152.93 83.10 154.13 83.24 155.33 83.39 156.53 83.52 157.73 83.66 158.93 83.79 160.13 83.92 161.33 84.04 162.52 84.17 163.72 84.29 164.92 84.40 166.12 84.52 167.32 84.63 168.52 84.74 169.72 84.84 170.92 84.94 172.12 85.04 173.32 85.14 174.52 85.24 175.72 85.33 176.92 85.42 178.12 85.51 179.32 85.59 180.52 85.68 181.72 85.76 182.92 85.84 184.12 85.92 185.32 85.99 186.52 86.07 188.92 86.21 191.32 86.35 193.72 86.48 196.12 86.60 198.52 86.72 200.92 86.83 203.32 86.93 205.72 87.04 208.12 87.13 210.51 87.22 212.91 87.31 215.31 87.39 217.71 87.47 220.11 87.54 222.51 87.62 224.91 87.68 227.31 87.75 229.71 87.81 232.11 87.87 234.51 87.92 236.91 87.97 239.31 88.02 241.71 88.07 244.11 88.12 246.51 88.16 248.91 88.20 251.31 88.24 253.71 88.28 256.11 88.31 258.50 88.35 260.90 88.38 263.30 88.41 265.70 88.44 268.10 88.46 270.50 88.49 272.90 88.52 275.30 88.54 277.70 88.56 280.10 88.58 282.50 88.60 284.90 88.62 287.30 88.64 289.70 88.66 292.10 88.68 294.50 88.69 296.90 88.71 299.30 88.72 301.70 88.73 304.10 88.75 306.50 88.76 308.89 88.77 311.29 88.78 313.69 88.79 316.09 88.80 318.49 88.81 320.89 88.82 323.29 88.83 325.69 88.84 328.09 88.85 330.49 88.85 332.89 88.86 335.29 88.87 337.69 88.87 340.09 88.88 342.49 88.89 344.89 88.89 347.29 88.90 349.69 88.90 352.09 88.91 354.49 88.91 356.88 88.92 359.28 88.92 361.68 88.92 364.08 88.93 366.48 88.93 368.88 88.93 371.28 88.94 373.68 88.94 376.08 88.94 378.48 88.95 380.88 88.95 383.28 88.95 385.68 88.95 388.08 88.96 390.48 88.96 392.88 88.96 395.28 88.96 397.68 88.96 400.08 88.97 402.48 88.97 404.87 88.97 407.27 88.97 409.67 88.97 412.07 88.97 414.47 88.97 416.87 88.98 419.27 88.98 421.67 88.98 424.07 88.98 426.47 88.98 428.87 88.98 431.27 88.98 433.67 88.98 436.07 88.98 438.47 88.98 440.87 88.99 443.27 88.99 445.67 88.99 448.07 88.99 450.47 88.99 452.86 88.99 455.26 88.99 457.66 88.99 460.06 88.99 462.46 88.99 464.86 88.99 467.26 88.99 469.66 88.99 472.06 88.99 474.46 88.99 476.86 88.99 479.26 88.99 481.66 88.99 484.06 88.99 486.46 88.99 488.86 88.99 491.26 88.99 493.66 89.00 496.06 89.00 498.46 89.00 500.85 89.00 503.25 89.00 505.65 89.00 508.05 89.00 510.45 89.00 512.85 89.00 515.25 89.00 517.65 89.00 520.05 89.00 522.45 89.00" stroke="#D95319" stroke-width="1.10" stroke-dasharray="9.1 5.05"/>
<path d="M42.55 167.50 L43.15 166.52 43.75 165.56 44.35 164.61 44.95 163.67 45.55 162.74 46.15 161.83 46.75 160.92 47.35 160.03 47.95 159.15 48.55 158.28 49.15 157.42 49.75 156.57 50.35 155.73 50.95 154.90 51.55 154.08 52.15 153.27 52.75 152.47 53.35 151.68 53.95 150.90 54.55 150.14 55.15 149.38 55.75 148.63 56.35 147.89 56.95 147.15 57.55 146.43 58.15 145.72 58.75 145.01 59.35 144.32 59.95 143.63 60.55 142.95 61.15 142.28 61.75 141.62 62.35 140.97 62.95 140.32 63.55 139.68 64.15 139.05 64.75 138.43 65.35 137.82 65.95 137.21 66.55 136.61 67.14 136.02 67.74 135.44 68.34 134.86 68.94 134.29 69.54 133.73 70.14 133.17 70.74 132.62 71.34 132.08 71.94 131.55 72.54 131.02 73.14 130.50 73.74 129.98 74.34 129.47 74.94 128.97 75.54 128.47 76.14 127.98 76.74 127.50 77.34 127.02 77.94 126.55 78.54 126.08 79.14 125.62 79.74 125.17 80.34 124.72 80.94 124.27 81.54 123.83 82.14 123.40 82.74 122.97 83.34 122.55 83.94 122.14 84.54 121.72 85.14 121.32 85.74 120.92 86.34 120.52 86.94 120.13 87.54 119.74 88.14 119.36 88.74 118.98 89.34 118.61 89.94 118.24 90.54 117.88 91.74 117.17 92.94 116.47 94.14 115.79 95.34 115.13 96.54 114.49 97.74 113.86 98.94 113.24 100.14 112.64 101.34 112.06 102.54 111.49 103.74 110.94 104.94 110.39 106.14 109.87 107.34 109.35 108.54 108.85 109.74 108.36 110.94 107.88 112.14 107.41 113.34 106.96 114.53 106.52 115.73 106.08 116.93 105.66 118.13 105.25 119.33 104.85 120.53 104.46 121.73 104.08 122.93 103.70 124.13 103.34 125.33 102.99 126.53 102.64 127.73 102.30 128.93 101.98 130.13 101.66 131.33 101.34 132.53 101.04 133.73 100.74 134.93 100.45 136.13 100.17 137.33 99.89 138.53 99.62 139.73 99.36 140.93 99.11 142.13 98.86 143.33 98.61 144.53 98.38 145.73 98.14 146.93 97.92 148.13 97.70 149.33 97.48 150.53 97.27 151.73 97.07 152.93 96.87 154.13 96.68 155.33 96.49 156.53 96.30 157.73 96.12 158.93 95.95 160.13 95.77 161.33 95.61 162.52 95.44 163.72 95.28 164.92 95.13 166.12 94.98 167.32 94.83 168.52 94.69 169.72 94.55 170.92 94.41 172.12 94.28 173.32 94.15 174.52 94.02 175.72 93.89 176.92 93.77 178.12 93.66 179.32 93.54 180.52 93.43 181.72 93.32 182.92 93.21 184.12 93.11 185.32 93.01 186.52 92.91 188.92 92.72 191.32 92.54 193.72 92.36 196.12 92.20 198.52 92.04 200.92 91.90 203.32 91.75 205.72 91.62 208.12 91.49 210.51 91.37 212.91 91.25 215.31 91.14 217.71 91.04 220.11 90.94 222.51 90.85 224.91 90.76 227.31 90.67 229.71 90.59 232.11 90.51 234.51 90.44 236.91 90.37 239.31 90.30 241.71 90.24 244.11 90.18 246.51 90.12 248.91 90.07 251.31 90.01 253.71 89.96 256.11 89.92 258.50 89.87 260.90 89.83 263.30 89.79 265.70 89.75 268.10 89.71 270.50 89.68 272.90 89.65 275.30 89.61 277.70 89.58 280.10 89.56 282.50 89.53 284.90 89.50 287.30 89.48 289.70 89.46 292.10 89.43 294.50 89.41 296.90 89.39 299.30 89.37 301.70 89.35 304.10 89.34 306.50 89.32 308.89 89.31 311.29 89.29 313.69 89.28 316.09 89.26 318.49 89.25 320.89 89.24 323.29 89.23 325.69 89.22 328.09 89.20 330.49 89.19 332.89 89.19 335.29 89.18 337.69 89.17 340.09 89.16 342.49 89.15 344.89 89.14 347.29 89.14 349.69 89.13 352.09 89.12 354.49 89.12 356.88 89.11 359.28 89.11 361.68 89.10 364.08 89.10 366.48 89.09 368.88 89.09 371.28 89.08 373.68 89.08 376.08 89.08 378.48 89.07 380.88 89.07 383.28 89.06 385.68 89.06 388.08 89.06 390.48 89.06 392.88 89.05 395.28 89.05 397.68 89.05 400.08 89.05 402.48 89.04 404.87 89.04 407.27 89.04 409.67 89.04 412.07 89.04 414.47 89.03 416.87 89.03 419.27 89.03 421.67 89.03 424.07 89.03 426.47 89.03 428.87 89.03 431.27 89.02 433.67 89.02 436.07 89.02 438.47 89.02 440.87 89.02 443.27 89.02 445.67 89.02 448.07 89.02 450.47 89.02 452.86 89.02 455.26 89.01 457.66 89.01 460.06 89.01 462.46 89.01 464.86 89.01 467.26 89.01 469.66 89.01 472.06 89.01 474.46 89.01 476.86 89.01 479.26 89.01 481.66 89.01 484.06 89.01 486.46 89.01 488.86 89.01 491.26 89.01 493.66 89.01 496.06 89.01 498.46 89.01 500.85 89.01 503.25 89.01 505.65 89.01 508.05 89.00 510.45 89.00 512.85 89.00 515.25 89.00 517.65 89.00 520.05 89.00 522.45 89.00" stroke="#EDB120" stroke-width="1.10" stroke-dasharray="9.1 5.05"/>
<path d="M42.55 69.38 L43.15 69.62 43.75 69.86 44.35 70.10 44.95 70.33 45.55 70.56 46.15 70.79 46.75 71.02 47.35 71.24 47.95 71.46 48.55 71.68 49.15 71.90 49.75 72.11 50.35 72.32 50.95 72.53 51.55 72.73 52.15 72.93 52.75 73.13 53.35 73.33 53.95 73.52 54.55 73.72 55.15 73.91 55.75 74.09 56.35 74.28 56.95 74.46 57.55 74.64 58.15 74.82 58.75 75.00 59.35 75.17 59.95 75.34 60.55 75.51 61.15 75.68 61.75 75.84 62.35 76.01 62.95 76.17 63.55 76.33 64.15 76.49 64.75 76.64 65.35 76.80 65.95 76.95 66.55 77.10 67.14 77.24 67.74 77.39 68.34 77.53 68.94 77.68 69.54 77.82 70.14 77.96 70.74 78.09 71.34 78.23 71.94 78.36 72.54 78.50 73.14 78.63 73.74 78.75 74.34 78.88 74.94 79.01 75.54 79.13 76.14 79.25 76.74 79.38 77.34 79.50 77.94 79.61 78.54 79.73 79.14 79.84 79.74 79.96 80.34 80.07 80.94 80.18 81.54 80.29 82.14 80.40 82.74 80.51 83.34 80.61 83.94 80.72 84.54 80.82 85.14 80.92 85.74 81.02 86.34 81.12 86.94 81.22 87.54 81.31 88.14 81.41 88.74 81.50 89.34 81.60 89.94 81.69 90.54 81.78 91.74 81.96 92.94 82.13 94.14 82.30 95.34 82.47 96.54 82.63 97.74 82.79 98.94 82.94 100.14 83.09 101.34 83.24 102.54 83.38 103.74 83.52 104.94 83.65 106.14 83.78 107.34 83.91 108.54 84.04 109.74 84.16 110.94 84.28 112.14 84.40 113.34 84.51 114.53 84.62 115.73 84.73 116.93 84.83 118.13 84.94 119.33 85.04 120.53 85.14 121.73 85.23 122.93 85.32 124.13 85.41 125.33 85.50 126.53 85.59 127.73 85.67 128.93 85.76 130.13 85.84 131.33 85.91 132.53 85.99 133.73 86.06 134.93 86.14 136.13 86.21 137.33 86.28 138.53 86.34 139.73 86.41 140.93 86.47 142.13 86.54 143.33 86.60 144.53 86.66 145.73 86.71 146.93 86.77 148.13 86.83 149.33 86.88 150.53 86.93 151.73 86.98 152.93 87.03 154.13 87.08 155.33 87.13 156.53 87.17 157.73 87.22 158.93 87.26 160.13 87.31 161.33 87.35 162.52 87.39 163.72 87.43 164.92 87.47 166.12 87.51 167.32 87.54 168.52 87.58 169.72 87.61 170.92 87.65 172.12 87.68 173.32 87.71 174.52 87.75 175.72 87.78 176.92 87.81 178.12 87.84 179.32 87.86 180.52 87.89 181.72 87.92 182.92 87.95 184.12 87.97 185.32 88.00 186.52 88.02 188.92 88.07 191.32 88.12 193.72 88.16 196.12 88.20 198.52 88.24 200.92 88.28 203.32 88.31 205.72 88.35 208.12 88.38 210.51 88.41 212.91 88.44 215.31 88.46 217.71 88.49 220.11 88.51 222.51 88.54 224.91 88.56 227.31 88.58 229.71 88.60 232.11 88.62 234.51 88.64 236.91 88.66 239.31 88.67 241.71 88.69 244.11 88.71 246.51 88.72 248.91 88.73 251.31 88.75 253.71 88.76 256.11 88.77 258.50 88.78 260.90 88.79 263.30 88.80 265.70 88.81 268.10 88.82 270.50 88.83 272.90 88.84 275.30 88.85 277.70 88.85 280.10 88.86 282.50 88.87 284.90 88.87 287.30 88.88 289.70 88.89 292.10 88.89 294.50 88.90 296.90 88.90 299.30 88.91 301.70 88.91 304.10 88.92 306.50 88.92 308.89 88.92 311.29 88.93 313.69 88.93 316.09 88.93 318.49 88.94 320.89 88.94 323.29 88.94 325.69 88.95 328.09 88.95 330.49 88.95 332.89 88.95 335.29 88.96 337.69 88.96 340.09 88.96 342.49 88.96 344.89 88.96 347.29 88.97 349.69 88.97 352.09 88.97 354.49 88.97 356.88 88.97 359.28 88.97 361.68 88.97 364.08 88.98 366.48 88.98 368.88 88.98 371.28 88.98 373.68 88.98 376.08 88.98 378.48 88.98 380.88 88.98 383.28 88.98 385.68 88.98 388.08 88.99 390.48 88.99 392.88 88.99 395.28 88.99 397.68 88.99 400.08 88.99 402.48 88.99 404.87 88.99 407.27 88.99 409.67 88.99 412.07 88.99 414.47 88.99 416.87 88.99 419.27 88.99 421.67 88.99 424.07 88.99 426.47 88.99 428.87 88.99 431.27 88.99 433.67 88.99 436.07 88.99 438.47 88.99 440.87 89.00 443.27 89.00 445.67 89.00 448.07 89.00 450.47 89.00 452.86 89.00 455.26 89.00 457.66 89.00 460.06 89.00 462.46 89.00 464.86 89.00 467.26 89.00 469.66 89.00 472.06 89.00 474.46 89.00 476.86 89.00 479.26 89.00 481.66 89.00 484.06 89.00 486.46 89.00 488.86 89.00 491.26 89.00 493.66 89.00 496.06 89.00 498.46 89.00 500.85 89.00 503.25 89.00 505.65 89.00 508.05 89.00 510.45 89.00 512.85 89.00 515.25 89.00 517.65 89.00 520.05 89.00 522.45 89.00" stroke="#7E2F8E" stroke-width="1.10" stroke-dasharray="9.1 5.05"/>
<path d="M42.55 49.75 L43.15 50.24 43.75 50.72 44.35 51.19 44.95 51.66 45.55 52.13 46.15 52.59 46.75 53.04 47.35 53.49 47.95 53.93 48.55 54.36 49.15 54.79 49.75 55.22 50.35 55.64 50.95 56.05 51.55 56.46 52.15 56.86 52.75 57.26 53.35 57.66 53.95 58.05 54.55 58.43 55.15 58.81 55.75 59.19 56.35 59.56 56.95 59.92 57.55 60.28 58.15 60.64 58.75 60.99 59.35 61.34 59.95 61.68 60.55 62.02 61.15 62.36 61.75 62.69 62.35 63.02 62.95 63.34 63.55 63.66 64.15 63.97 64.75 64.28 65.35 64.59 65.95 64.89 66.55 65.19 67.14 65.49 67.74 65.78 68.34 66.07 68.94 66.35 69.54 66.64 70.14 66.91 70.74 67.19 71.34 67.46 71.94 67.73 72.54 67.99 73.14 68.25 73.74 68.51 74.34 68.76 74.94 69.02 75.54 69.26 76.14 69.51 76.74 69.75 77.34 69.99 77.94 70.23 78.54 70.46 79.14 70.69 79.74 70.92 80.34 71.14 80.94 71.36 81.54 71.58 82.14 71.80 82.74 72.01 83.34 72.22 83.94 72.43 84.54 72.64 85.14 72.84 85.74 73.04 86.34 73.24 86.94 73.44 87.54 73.63 88.14 73.82 88.74 74.01 89.34 74.20 89.94 74.38 90.54 74.56 91.74 74.92 92.94 75.26 94.14 75.60 95.34 75.93 96.54 76.26 97.74 76.57 98.94 76.88 100.14 77.18 101.34 77.47 102.54 77.75 103.74 78.03 104.94 78.30 106.14 78.57 107.34 78.82 108.54 79.08 109.74 79.32 110.94 79.56 112.14 79.79 113.34 80.02 114.53 80.24 115.73 80.46 116.93 80.67 118.13 80.87 119.33 81.08 120.53 81.27 121.73 81.46 122.93 81.65 124.13 81.83 125.33 82.01 126.53 82.18 127.73 82.35 128.93 82.51 130.13 82.67 131.33 82.83 132.53 82.98 133.73 83.13 134.93 83.27 136.13 83.42 137.33 83.55 138.53 83.69 139.73 83.82 140.93 83.95 142.13 84.07 143.33 84.19 144.53 84.31 145.73 84.43 146.93 84.54 148.13 84.65 149.33 84.76 150.53 84.86 151.73 84.97 152.93 85.06 154.13 85.16 155.33 85.26 156.53 85.35 157.73 85.44 158.93 85.53 160.13 85.61 161.33 85.70 162.52 85.78 163.72 85.86 164.92 85.94 166.12 86.01 167.32 86.08 168.52 86.16 169.72 86.23 170.92 86.30 172.12 86.36 173.32 86.43 174.52 86.49 175.72 86.55 176.92 86.61 178.12 86.67 179.32 86.73 180.52 86.79 181.72 86.84 182.92 86.89 184.12 86.95 185.32 87.00 186.52 87.05 188.92 87.14 191.32 87.23 193.72 87.32 196.12 87.40 198.52 87.48 200.92 87.55 203.32 87.62 205.72 87.69 208.12 87.75 210.51 87.81 212.91 87.87 215.31 87.93 217.71 87.98 220.11 88.03 222.51 88.08 224.91 88.12 227.31 88.16 229.71 88.21 232.11 88.24 234.51 88.28 236.91 88.32 239.31 88.35 241.71 88.38 244.11 88.41 246.51 88.44 248.91 88.47 251.31 88.49 253.71 88.52 256.11 88.54 258.50 88.56 260.90 88.59 263.30 88.61 265.70 88.62 268.10 88.64 270.50 88.66 272.90 88.68 275.30 88.69 277.70 88.71 280.10 88.72 282.50 88.74 284.90 88.75 287.30 88.76 289.70 88.77 292.10 88.78 294.50 88.79 296.90 88.80 299.30 88.81 301.70 88.82 304.10 88.83 306.50 88.84 308.89 88.85 311.29 88.85 313.69 88.86 316.09 88.87 318.49 88.88 320.89 88.88 323.29 88.89 325.69 88.89 328.09 88.90 330.49 88.90 332.89 88.91 335.29 88.91 337.69 88.92 340.09 88.92 342.49 88.92 344.89 88.93 347.29 88.93 349.69 88.93 352.09 88.94 354.49 88.94 356.88 88.94 359.28 88.95 361.68 88.95 364.08 88.95 366.48 88.95 368.88 88.96 371.28 88.96 373.68 88.96 376.08 88.96 378.48 88.96 380.88 88.97 383.28 88.97 385.68 88.97 388.08 88.97 390.48 88.97 392.88 88.97 395.28 88.97 397.68 88.98 400.08 88.98 402.48 88.98 404.87 88.98 407.27 88.98 409.67 88.98 412.07 88.98 414.47 88.98 416.87 88.98 419.27 88.98 421.67 88.99 424.07 88.99 426.47 88.99 428.87 88.99 431.27 88.99 433.67 88.99 436.07 88.99 438.47 88.99 440.87 88.99 443.27 88.99 445.67 88.99 448.07 88.99 450.47 88.99 452.86 88.99 455.26 88.99 457.66 88.99 460.06 88.99 462.46 88.99 464.86 88.99 467.26 88.99 469.66 88.99 472.06 88.99 474.46 89.00 476.86 89.00 479.26 89.00 481.66 89.00 484.06 89.00 486.46 89.00 488.86 89.00 491.26 89.00 493.66 89.00 496.06 89.00 498.46 89.00 500.85 89.00 503.25 89.00 505.65 89.00 508.05 89.00 510.45 89.00 512.85 89.00 515.25 89.00 517.65 89.00 520.05 89.00 522.45 89.00" stroke="#77AC30" stroke-width="1.10" stroke-dasharray="9.1 5.05"/>
</g>
<g class="tl"><text x="42.55" y="185.90" text-anchor="middle">0</text>
<text x="90.54" y="185.90" text-anchor="middle">1</text>
<text x="138.53" y="185.90" text-anchor="middle">2</text>
<text x="186.52" y="185.90" text-anchor="middle">3</text>
<text x="234.51" y="185.90" text-anchor="middle">4</text>
<text x="282.50" y="185.90" text-anchor="middle">5</text>
<text x="330.49" y="185.90" text-anchor="middle">6</text>
<text x="378.48" y="185.90" text-anchor="middle">7</text>
<text x="426.47" y="185.90" text-anchor="middle">8</text>
<text x="474.46" y="185.90" text-anchor="middle">9</text>
<text x="522.45" y="185.90" text-anchor="middle">10</text>
<text x="37.90" y="15.40" text-anchor="end">4</text>
<text x="37.90" y="54.65" text-anchor="end">2</text>
<text x="37.90" y="93.90" text-anchor="end">0</text>
<text x="37.90" y="133.15" text-anchor="end">-2</text>
<text x="37.90" y="172.40" text-anchor="end">-4</text></g>
<text x="283" y="204.7" text-anchor="middle" class="xl">Time(s)</text>
<g transform="rotate(-90)" text-anchor="middle">
<text x="-136.15" y="18.80" class="yl it">x</text>
<text x="-130.05" y="21.00" class="ys it">i</text>
<text x="-126.20" y="21.00" class="ys">1</text>
<text x="-120.50" y="18.80" class="yl">,</text>
<text x="-114.45" y="18.80" class="yl it">i</text>
<text x="-101.90" y="20.80" class="yl eq">=</text>
<text x="-88.15" y="18.80" class="yl">1</text>
<text x="-82.50" y="18.80" class="yl">,</text>
<text x="-76.50" y="18.80" class="yl">.</text>
<text x="-69.90" y="18.80" class="yl">.</text>
<text x="-63.20" y="18.80" class="yl">.</text>
<text x="-56.50" y="18.80" class="yl">,</text>
<text x="-44.70" y="18.80" class="yl">12</text>
</g>
<rect x="271.50" y="96.10" width="247.00" height="55.40" fill="#fff"/>
<g fill="none" stroke-linejoin="round">
<path d="M271.50 119.42 L518.50 120.70" stroke="#7E2F8E" stroke-width="1.00"/>
<path d="M271.50 124.58 L518.50 125.19" stroke="#0072BD" stroke-width="1.00"/>
<path d="M271.50 127.23 L518.50 126.85" stroke="#0072BD" stroke-width="1.00"/>
<path d="M271.50 132.11 L518.50 131.89" stroke="#4DBEEE" stroke-width="1.00"/>
<path d="M271.50 134.55 L518.50 134.55" stroke="#EDB120" stroke-width="1.00"/>
<path d="M271.50 137.10 L518.50 135.93" stroke="#A2142F" stroke-width="1.00"/>
<path d="M271.50 139.15 L518.50 137.93" stroke="#D95319" stroke-width="1.00"/>
<path d="M271.50 142.86 L518.50 141.14" stroke="#77AC30" stroke-width="1.00"/>
<path d="M271.50 105.29 L518.50 108.64" stroke="#D95319" stroke-width="1.00" stroke-dasharray="9.1 5.05"/>
<path d="M271.50 111.46 L518.50 113.70" stroke="#77AC30" stroke-width="1.00" stroke-dasharray="9.1 5.05"/>
<path d="M271.50 148.48 L518.50 144.01" stroke="#EDB120" stroke-width="1.00" stroke-dasharray="9.1 5.05"/>
<path d="M271.50 117.63 L518.50 118.75" stroke="#FF3B3B" stroke-width="1.40" stroke-dasharray="9.1 5.05"/>
</g>
<path d="M271.50 151.50 V149.00 M271.50 96.10 V98.60 M333.25 151.50 V149.00 M333.25 96.10 V98.60 M395.00 151.50 V149.00 M395.00 96.10 V98.60 M456.75 151.50 V149.00 M456.75 96.10 V98.60 M518.50 151.50 V149.00 M518.50 96.10 V98.60 M271.50 151.50 H274.00 M518.50 151.50 H516.00 M271.50 123.80 H274.00 M518.50 123.80 H516.00 M271.50 96.10 H274.00 M518.50 96.10 H516.00" stroke="#525252" stroke-width="1" fill="none"/>
<rect x="271.50" y="96.10" width="247.00" height="55.40" fill="none" stroke="#4a4a4a" stroke-width="1.3"/>
<g font-size="11" fill="#262626">
<text x="271.50" y="166.0" text-anchor="middle">6.8</text>
<text x="333.25" y="166.0" text-anchor="middle">6.85</text>
<text x="395.00" y="166.0" text-anchor="middle">6.9</text>
<text x="456.75" y="166.0" text-anchor="middle">6.95</text>
<text x="518.50" y="166.0" text-anchor="middle">7</text>
<text x="268.00" y="101.30" text-anchor="end">5</text>
<text x="268.00" y="129.00" text-anchor="end">0</text>
<text x="268.00" y="156.70" text-anchor="end">-5</text>
<text x="272.6" y="95.2" font-size="12.5">×</text>
<text x="283.0" y="93.2">10</text>
<text x="295.0" y="88.8" font-size="8.6">-3</text>
</g>
<path d="M42.55 387.50 V382.70 M42.55 230.50 V235.30 M90.54 387.50 V382.70 M90.54 230.50 V235.30 M138.53 387.50 V382.70 M138.53 230.50 V235.30 M186.52 387.50 V382.70 M186.52 230.50 V235.30 M234.51 387.50 V382.70 M234.51 230.50 V235.30 M282.50 387.50 V382.70 M282.50 230.50 V235.30 M330.49 387.50 V382.70 M330.49 230.50 V235.30 M378.48 387.50 V382.70 M378.48 230.50 V235.30 M426.47 387.50 V382.70 M426.47 230.50 V235.30 M474.46 387.50 V382.70 M474.46 230.50 V235.30 M522.45 387.50 V382.70 M522.45 230.50 V235.30 M42.55 230.50 H47.35 M522.45 230.50 H517.65 M42.55 282.83 H47.35 M522.45 282.83 H517.65 M42.55 335.17 H47.35 M522.45 335.17 H517.65 M42.55 387.50 H47.35 M522.45 387.50 H517.65" stroke="#525252" stroke-width="1" fill="none"/>
<rect x="42.55" y="230.50" width="479.90" height="157.00" fill="none" stroke="#525252" stroke-width="1.15"/>
<g fill="none" clip-path="url(#cb)" stroke-linejoin="round">
<path d="M42.55 285.97 L43.15 287.90 43.75 289.78 44.35 291.61 44.95 293.37 45.55 295.07 46.15 296.68 46.75 298.22 47.35 299.66 47.95 301.02 48.55 302.31 49.15 303.55 49.75 304.75 50.35 305.90 50.95 307.00 51.55 308.08 52.15 309.12 52.75 310.13 53.35 311.13 53.95 312.10 54.55 313.07 55.15 314.02 55.75 314.96 56.35 315.89 56.95 316.79 57.55 317.66 58.15 318.50 58.75 319.29 59.35 320.05 59.95 320.75 60.55 321.40 61.15 322.01 61.75 322.61 62.35 323.18 62.95 323.72 63.55 324.23 64.15 324.71 64.75 325.16 65.35 325.57 65.95 325.94 66.55 326.28 67.14 326.60 67.74 326.91 68.34 327.21 68.94 327.49 69.54 327.76 70.14 328.00 70.74 328.22 71.34 328.43 71.94 328.60 72.54 328.76 73.14 328.89 73.74 329.03 74.34 329.17 74.94 329.30 75.54 329.43 76.14 329.55 76.74 329.66 77.34 329.77 77.94 329.86 78.54 329.95 79.14 330.03 79.74 330.09 80.34 330.14 80.94 330.17 81.54 330.19 82.14 330.19 82.74 330.19 83.34 330.19 83.94 330.19 84.54 330.19 85.14 330.18 85.74 330.18 86.34 330.17 86.94 330.17 87.54 330.16 88.14 330.15 88.74 330.15 89.34 330.14 89.94 330.13 90.54 330.12 91.74 330.10 92.94 330.08 94.14 330.06 95.34 330.03 96.54 330.01 97.74 329.98 98.94 329.96 100.14 329.93 101.34 329.91 102.54 329.88 103.74 329.84 104.94 329.80 106.14 329.76 107.34 329.72 108.54 329.67 109.74 329.62 110.94 329.57 112.14 329.52 113.34 329.46 114.53 329.40 115.73 329.34 116.93 329.28 118.13 329.22 119.33 329.16 120.53 329.10 121.73 329.04 122.93 328.97 124.13 328.91 125.33 328.85 126.53 328.79 127.73 328.73 128.93 328.67 130.13 328.61 131.33 328.56 132.53 328.50 133.73 328.43 134.93 328.37 136.13 328.31 137.33 328.24 138.53 328.18 139.73 328.11 140.93 328.04 142.13 327.98 143.33 327.91 144.53 327.84 145.73 327.77 146.93 327.71 148.13 327.64 149.33 327.58 150.53 327.51 151.73 327.45 152.93 327.39 154.13 327.33 155.33 327.27 156.53 327.21 157.73 327.16 158.93 327.11 160.13 327.06 161.33 327.01 162.52 326.96 163.72 326.90 164.92 326.85 166.12 326.80 167.32 326.75 168.52 326.69 169.72 326.64 170.92 326.59 172.12 326.53 173.32 326.48 174.52 326.43 175.72 326.38 176.92 326.32 178.12 326.28 179.32 326.23 180.52 326.18 181.72 326.13 182.92 326.09 184.12 326.05 185.32 326.01 186.52 325.97 188.92 325.90 191.32 325.84 193.72 325.80 196.12 325.77 198.52 325.75 200.92 325.75 203.32 325.75 205.72 325.75 208.12 325.75 210.51 325.75 212.91 325.75 215.31 325.75 217.71 325.75 220.11 325.75 222.51 325.75 224.91 325.75 227.31 325.75 229.71 325.75 232.11 325.75 234.51 325.75 236.91 325.75 239.31 325.75 241.71 325.75 244.11 325.75 246.51 325.75 248.91 325.75 251.31 325.75 253.71 325.75 256.11 325.75 258.50 325.75 260.90 325.75 263.30 325.75 265.70 325.76 268.10 325.77 270.50 325.78 272.90 325.79 275.30 325.81 277.70 325.82 280.10 325.84 282.50 325.86 284.90 325.88 287.30 325.90 289.70 325.93 292.10 325.95 294.50 325.97 296.90 326.00 299.30 326.02 301.70 326.04 304.10 326.07 306.50 326.09 308.89 326.11 311.29 326.14 313.69 326.16 316.09 326.18 318.49 326.20 320.89 326.22 323.29 326.23 325.69 326.25 328.09 326.26 330.49 326.27 332.89 326.28 335.29 326.29 337.69 326.30 340.09 326.31 342.49 326.32 344.89 326.33 347.29 326.34 349.69 326.35 352.09 326.36 354.49 326.37 356.88 326.37 359.28 326.38 361.68 326.39 364.08 326.40 366.48 326.41 368.88 326.42 371.28 326.43 373.68 326.43 376.08 326.44 378.48 326.45 380.88 326.46 383.28 326.46 385.68 326.47 388.08 326.48 390.48 326.48 392.88 326.49 395.28 326.49 397.68 326.50 400.08 326.50 402.48 326.51 404.87 326.51 407.27 326.52 409.67 326.52 412.07 326.52 414.47 326.53 416.87 326.53 419.27 326.53 421.67 326.53 424.07 326.53 426.47 326.53 428.87 326.53 431.27 326.53 433.67 326.53 436.07 326.53 438.47 326.53 440.87 326.53 443.27 326.53 445.67 326.53 448.07 326.53 450.47 326.53 452.86 326.53 455.26 326.53 457.66 326.53 460.06 326.53 462.46 326.53 464.86 326.53 467.26 326.53 469.66 326.53 472.06 326.53 474.46 326.53 476.86 326.53 479.26 326.53 481.66 326.53 484.06 326.53 486.46 326.53 488.86 326.53 491.26 326.53 493.66 326.53 496.06 326.53 498.46 326.53 500.85 326.53 503.25 326.53 505.65 326.53 508.05 326.53 510.45 326.53 512.85 326.53 515.25 326.53 517.65 326.53 520.05 326.53 522.45 326.53" stroke="#0072BD" stroke-width="1.10"/>
<path d="M42.55 285.97 L43.15 286.57 43.75 287.16 44.35 287.75 44.95 288.33 45.55 288.91 46.15 289.48 46.75 290.04 47.35 290.60 47.95 291.16 48.55 291.70 49.15 292.24 49.75 292.78 50.35 293.31 50.95 293.83 51.55 294.35 52.15 294.87 52.75 295.39 53.35 295.90 53.95 296.40 54.55 296.90 55.15 297.40 55.75 297.88 56.35 298.36 56.95 298.83 57.55 299.29 58.15 299.75 58.75 300.19 59.35 300.63 59.95 301.06 60.55 301.49 61.15 301.91 61.75 302.32 62.35 302.73 62.95 303.14 63.55 303.54 64.15 303.93 64.75 304.32 65.35 304.71 65.95 305.09 66.55 305.47 67.14 305.84 67.74 306.21 68.34 306.58 68.94 306.94 69.54 307.30 70.14 307.66 70.74 308.02 71.34 308.38 71.94 308.74 72.54 309.10 73.14 309.46 73.74 309.82 74.34 310.18 74.94 310.53 75.54 310.88 76.14 311.22 76.74 311.55 77.34 311.87 77.94 312.19 78.54 312.49 79.14 312.79 79.74 313.07 80.34 313.34 80.94 313.60 81.54 313.84 82.14 314.06 82.74 314.28 83.34 314.49 83.94 314.70 84.54 314.90 85.14 315.10 85.74 315.30 86.34 315.49 86.94 315.68 87.54 315.86 88.14 316.04 88.74 316.22 89.34 316.39 89.94 316.56 90.54 316.72 91.74 317.04 92.94 317.35 94.14 317.64 95.34 317.92 96.54 318.19 97.74 318.45 98.94 318.70 100.14 318.94 101.34 319.18 102.54 319.41 103.74 319.63 104.94 319.85 106.14 320.07 107.34 320.28 108.54 320.49 109.74 320.69 110.94 320.89 112.14 321.08 113.34 321.27 114.53 321.45 115.73 321.63 116.93 321.80 118.13 321.97 119.33 322.14 120.53 322.30 121.73 322.45 122.93 322.60 124.13 322.75 125.33 322.89 126.53 323.03 127.73 323.16 128.93 323.29 130.13 323.42 131.33 323.54 132.53 323.66 133.73 323.77 134.93 323.89 136.13 324.00 137.33 324.11 138.53 324.22 139.73 324.32 140.93 324.42 142.13 324.52 143.33 324.62 144.53 324.72 145.73 324.81 146.93 324.90 148.13 324.99 149.33 325.08 150.53 325.16 151.73 325.24 152.93 325.32 154.13 325.40 155.33 325.47 156.53 325.54 157.73 325.61 158.93 325.68 160.13 325.75 161.33 325.81 162.52 325.87 163.72 325.93 164.92 325.99 166.12 326.05 167.32 326.11 168.52 326.17 169.72 326.22 170.92 326.28 172.12 326.33 173.32 326.38 174.52 326.44 175.72 326.49 176.92 326.54 178.12 326.58 179.32 326.63 180.52 326.68 181.72 326.73 182.92 326.77 184.12 326.81 185.32 326.86 186.52 326.90 188.92 326.98 191.32 327.06 193.72 327.14 196.12 327.21 198.52 327.28 200.92 327.34 203.32 327.41 205.72 327.47 208.12 327.53 210.51 327.59 212.91 327.65 215.31 327.70 217.71 327.76 220.11 327.81 222.51 327.86 224.91 327.91 227.31 327.96 229.71 328.01 232.11 328.06 234.51 328.10 236.91 328.15 239.31 328.19 241.71 328.23 244.11 328.27 246.51 328.31 248.91 328.35 251.31 328.39 253.71 328.42 256.11 328.46 258.50 328.49 260.90 328.53 263.30 328.56 265.70 328.59 268.10 328.62 270.50 328.65 272.90 328.68 275.30 328.71 277.70 328.74 280.10 328.77 282.50 328.80 284.90 328.82 287.30 328.85 289.70 328.87 292.10 328.90 294.50 328.92 296.90 328.95 299.30 328.97 301.70 329.00 304.10 329.02 306.50 329.04 308.89 329.07 311.29 329.09 313.69 329.11 316.09 329.14 318.49 329.16 320.89 329.18 323.29 329.21 325.69 329.23 328.09 329.25 330.49 329.28 332.89 329.30 335.29 329.33 337.69 329.35 340.09 329.38 342.49 329.41 344.89 329.43 347.29 329.46 349.69 329.49 352.09 329.51 354.49 329.54 356.88 329.57 359.28 329.60 361.68 329.62 364.08 329.65 366.48 329.68 368.88 329.70 371.28 329.73 373.68 329.76 376.08 329.78 378.48 329.81 380.88 329.83 383.28 329.86 385.68 329.88 388.08 329.91 390.48 329.93 392.88 329.95 395.28 329.98 397.68 330.00 400.08 330.02 402.48 330.04 404.87 330.06 407.27 330.08 409.67 330.10 412.07 330.11 414.47 330.13 416.87 330.15 419.27 330.16 421.67 330.17 424.07 330.18 426.47 330.19 428.87 330.21 431.27 330.22 433.67 330.23 436.07 330.24 438.47 330.25 440.87 330.26 443.27 330.26 445.67 330.27 448.07 330.28 450.47 330.29 452.86 330.30 455.26 330.31 457.66 330.32 460.06 330.33 462.46 330.34 464.86 330.35 467.26 330.35 469.66 330.36 472.06 330.37 474.46 330.38 476.86 330.38 479.26 330.39 481.66 330.40 484.06 330.40 486.46 330.41 488.86 330.42 491.26 330.42 493.66 330.43 496.06 330.43 498.46 330.43 500.85 330.44 503.25 330.44 505.65 330.45 508.05 330.45 510.45 330.45 512.85 330.45 515.25 330.45 517.65 330.46 520.05 330.46 522.45 330.46" stroke="#D95319" stroke-width="1.10"/>
<path d="M42.55 336.74 L43.15 337.01 43.75 337.29 44.35 337.55 44.95 337.81 45.55 338.06 46.15 338.29 46.75 338.51 47.35 338.70 47.95 338.88 48.55 339.03 49.15 339.16 49.75 339.25 50.35 339.32 50.95 339.35 51.55 339.35 52.15 339.35 52.75 339.34 53.35 339.34 53.95 339.32 54.55 339.31 55.15 339.30 55.75 339.28 56.35 339.26 56.95 339.24 57.55 339.21 58.15 339.19 58.75 339.16 59.35 339.14 59.95 339.11 60.55 339.08 61.15 339.03 61.75 338.97 62.35 338.90 62.95 338.81 63.55 338.71 64.15 338.60 64.75 338.48 65.35 338.36 65.95 338.22 66.55 338.09 67.14 337.94 67.74 337.80 68.34 337.66 68.94 337.51 69.54 337.37 70.14 337.23 70.74 337.10 71.34 336.97 71.94 336.85 72.54 336.74 73.14 336.63 73.74 336.52 74.34 336.42 74.94 336.31 75.54 336.21 76.14 336.11 76.74 336.01 77.34 335.90 77.94 335.80 78.54 335.71 79.14 335.61 79.74 335.51 80.34 335.41 80.94 335.32 81.54 335.22 82.14 335.13 82.74 335.04 83.34 334.94 83.94 334.85 84.54 334.75 85.14 334.66 85.74 334.56 86.34 334.47 86.94 334.37 87.54 334.28 88.14 334.18 88.74 334.09 89.34 334.00 89.94 333.90 90.54 333.81 91.74 333.63 92.94 333.46 94.14 333.29 95.34 333.13 96.54 332.97 97.74 332.82 98.94 332.68 100.14 332.55 101.34 332.42 102.54 332.30 103.74 332.18 104.94 332.05 106.14 331.93 107.34 331.81 108.54 331.69 109.74 331.57 110.94 331.46 112.14 331.35 113.34 331.24 114.53 331.13 115.73 331.03 116.93 330.93 118.13 330.84 119.33 330.75 120.53 330.66 121.73 330.58 122.93 330.51 124.13 330.44 125.33 330.38 126.53 330.32 127.73 330.27 128.93 330.22 130.13 330.19 131.33 330.15 132.53 330.12 133.73 330.09 134.93 330.06 136.13 330.03 137.33 330.00 138.53 329.97 139.73 329.94 140.93 329.91 142.13 329.88 143.33 329.86 144.53 329.83 145.73 329.81 146.93 329.79 148.13 329.77 149.33 329.75 150.53 329.74 151.73 329.72 152.93 329.71 154.13 329.70 155.33 329.69 156.53 329.68 157.73 329.68 158.93 329.67 160.13 329.67 161.33 329.67 162.52 329.67 163.72 329.68 164.92 329.68 166.12 329.69 167.32 329.70 168.52 329.71 169.72 329.72 170.92 329.73 172.12 329.74 173.32 329.76 174.52 329.77 175.72 329.79 176.92 329.81 178.12 329.82 179.32 329.84 180.52 329.86 181.72 329.88 182.92 329.90 184.12 329.92 185.32 329.94 186.52 329.96 188.92 330.00 191.32 330.05 193.72 330.09 196.12 330.13 198.52 330.17 200.92 330.21 203.32 330.25 205.72 330.29 208.12 330.34 210.51 330.39 212.91 330.43 215.31 330.48 217.71 330.53 220.11 330.59 222.51 330.64 224.91 330.69 227.31 330.75 229.71 330.81 232.11 330.86 234.51 330.92 236.91 330.98 239.31 331.04 241.71 331.10 244.11 331.15 246.51 331.21 248.91 331.27 251.31 331.33 253.71 331.39 256.11 331.45 258.50 331.50 260.90 331.56 263.30 331.62 265.70 331.68 268.10 331.75 270.50 331.81 272.90 331.88 275.30 331.95 277.70 332.02 280.10 332.09 282.50 332.16 284.90 332.23 287.30 332.30 289.70 332.37 292.10 332.44 294.50 332.51 296.90 332.57 299.30 332.64 301.70 332.71 304.10 332.77 306.50 332.84 308.89 332.90 311.29 332.96 313.69 333.01 316.09 333.07 318.49 333.12 320.89 333.17 323.29 333.22 325.69 333.26 328.09 333.30 330.49 333.33 332.89 333.37 335.29 333.40 337.69 333.43 340.09 333.47 342.49 333.50 344.89 333.53 347.29 333.56 349.69 333.59 352.09 333.62 354.49 333.65 356.88 333.68 359.28 333.71 361.68 333.73 364.08 333.76 366.48 333.79 368.88 333.81 371.28 333.84 373.68 333.86 376.08 333.89 378.48 333.91 380.88 333.94 383.28 333.96 385.68 333.98 388.08 334.00 390.48 334.02 392.88 334.04 395.28 334.06 397.68 334.08 400.08 334.10 402.48 334.11 404.87 334.13 407.27 334.15 409.67 334.16 412.07 334.18 414.47 334.19 416.87 334.20 419.27 334.22 421.67 334.23 424.07 334.24 426.47 334.25 428.87 334.26 431.27 334.27 433.67 334.28 436.07 334.29 438.47 334.30 440.87 334.31 443.27 334.32 445.67 334.33 448.07 334.34 450.47 334.35 452.86 334.36 455.26 334.37 457.66 334.38 460.06 334.38 462.46 334.39 464.86 334.40 467.26 334.41 469.66 334.42 472.06 334.43 474.46 334.43 476.86 334.44 479.26 334.45 481.66 334.45 484.06 334.46 486.46 334.47 488.86 334.47 491.26 334.48 493.66 334.48 496.06 334.49 498.46 334.49 500.85 334.49 503.25 334.50 505.65 334.50 508.05 334.50 510.45 334.51 512.85 334.51 515.25 334.51 517.65 334.51 520.05 334.51 522.45 334.51" stroke="#EDB120" stroke-width="1.10"/>
<path d="M42.55 372.06 L43.15 370.76 43.75 369.49 44.35 368.26 44.95 367.07 45.55 365.92 46.15 364.82 46.75 363.78 47.35 362.79 47.95 361.86 48.55 360.99 49.15 360.17 49.75 359.39 50.35 358.64 50.95 357.92 51.55 357.23 52.15 356.57 52.75 355.93 53.35 355.30 53.95 354.70 54.55 354.10 55.15 353.52 55.75 352.96 56.35 352.42 56.95 351.89 57.55 351.38 58.15 350.88 58.75 350.39 59.35 349.90 59.95 349.42 60.55 348.95 61.15 348.47 61.75 347.99 62.35 347.51 62.95 347.02 63.55 346.52 64.15 346.01 64.75 345.47 65.35 344.93 65.95 344.38 66.55 343.84 67.14 343.31 67.74 342.80 68.34 342.33 68.94 341.90 69.54 341.51 70.14 341.15 70.74 340.82 71.34 340.50 71.94 340.19 72.54 339.91 73.14 339.63 73.74 339.35 74.34 339.09 74.94 338.83 75.54 338.57 76.14 338.33 76.74 338.09 77.34 337.85 77.94 337.62 78.54 337.40 79.14 337.18 79.74 336.96 80.34 336.75 80.94 336.54 81.54 336.33 82.14 336.13 82.74 335.93 83.34 335.74 83.94 335.54 84.54 335.35 85.14 335.16 85.74 334.97 86.34 334.78 86.94 334.60 87.54 334.42 88.14 334.24 88.74 334.06 89.34 333.88 89.94 333.71 90.54 333.53 91.74 333.19 92.94 332.86 94.14 332.53 95.34 332.21 96.54 331.89 97.74 331.58 98.94 331.28 100.14 330.98 101.34 330.68 102.54 330.39 103.74 330.10 104.94 329.81 106.14 329.52 107.34 329.23 108.54 328.95 109.74 328.66 110.94 328.39 112.14 328.11 113.34 327.84 114.53 327.58 115.73 327.31 116.93 327.06 118.13 326.81 119.33 326.56 120.53 326.32 121.73 326.09 122.93 325.86 124.13 325.64 125.33 325.43 126.53 325.23 127.73 325.03 128.93 324.84 130.13 324.66 131.33 324.49 132.53 324.32 133.73 324.15 134.93 323.98 136.13 323.82 137.33 323.65 138.53 323.50 139.73 323.34 140.93 323.19 142.13 323.04 143.33 322.89 144.53 322.75 145.73 322.61 146.93 322.48 148.13 322.35 149.33 322.22 150.53 322.10 151.73 321.98 152.93 321.87 154.13 321.76 155.33 321.66 156.53 321.56 157.73 321.47 158.93 321.38 160.13 321.30 161.33 321.22 162.52 321.14 163.72 321.06 164.92 320.99 166.12 320.91 167.32 320.84 168.52 320.76 169.72 320.69 170.92 320.62 172.12 320.55 173.32 320.48 174.52 320.41 175.72 320.35 176.92 320.29 178.12 320.22 179.32 320.16 180.52 320.11 181.72 320.05 182.92 319.99 184.12 319.94 185.32 319.89 186.52 319.84 188.92 319.75 191.32 319.67 193.72 319.60 196.12 319.54 198.52 319.49 200.92 319.45 203.32 319.42 205.72 319.38 208.12 319.34 210.51 319.31 212.91 319.28 215.31 319.25 217.71 319.22 220.11 319.19 222.51 319.16 224.91 319.13 227.31 319.11 229.71 319.09 232.11 319.06 234.51 319.04 236.91 319.03 239.31 319.01 241.71 318.99 244.11 318.98 246.51 318.97 248.91 318.96 251.31 318.95 253.71 318.95 256.11 318.94 258.50 318.94 260.90 318.94 263.30 318.94 265.70 318.95 268.10 318.95 270.50 318.95 272.90 318.95 275.30 318.95 277.70 318.96 280.10 318.96 282.50 318.96 284.90 318.97 287.30 318.97 289.70 318.98 292.10 318.98 294.50 318.99 296.90 318.99 299.30 319.00 301.70 319.00 304.10 319.01 306.50 319.01 308.89 319.02 311.29 319.03 313.69 319.03 316.09 319.04 318.49 319.04 320.89 319.05 323.29 319.06 325.69 319.06 328.09 319.07 330.49 319.07 332.89 319.08 335.29 319.09 337.69 319.10 340.09 319.10 342.49 319.11 344.89 319.12 347.29 319.13 349.69 319.15 352.09 319.16 354.49 319.17 356.88 319.18 359.28 319.19 361.68 319.21 364.08 319.22 366.48 319.23 368.88 319.25 371.28 319.26 373.68 319.27 376.08 319.29 378.48 319.30 380.88 319.31 383.28 319.33 385.68 319.34 388.08 319.35 390.48 319.36 392.88 319.37 395.28 319.39 397.68 319.40 400.08 319.41 402.48 319.42 404.87 319.43 407.27 319.43 409.67 319.44 412.07 319.45 414.47 319.45 416.87 319.46 419.27 319.46 421.67 319.46 424.07 319.47 426.47 319.47 428.87 319.47 431.27 319.47 433.67 319.47 436.07 319.47 438.47 319.47 440.87 319.47 443.27 319.47 445.67 319.47 448.07 319.47 450.47 319.47 452.86 319.47 455.26 319.47 457.66 319.47 460.06 319.47 462.46 319.47 464.86 319.47 467.26 319.47 469.66 319.47 472.06 319.47 474.46 319.47 476.86 319.47 479.26 319.47 481.66 319.47 484.06 319.47 486.46 319.47 488.86 319.47 491.26 319.47 493.66 319.47 496.06 319.47 498.46 319.47 500.85 319.47 503.25 319.47 505.65 319.47 508.05 319.47 510.45 319.47 512.85 319.47 515.25 319.47 517.65 319.47 520.05 319.47 522.45 319.47" stroke="#7E2F8E" stroke-width="1.10"/>
<path d="M42.55 335.17 L43.15 334.84 43.75 334.52 44.35 334.19 44.95 333.87 45.55 333.54 46.15 333.21 46.75 332.89 47.35 332.56 47.95 332.23 48.55 331.90 49.15 331.57 49.75 331.23 50.35 330.87 50.95 330.49 51.55 330.11 52.15 329.72 52.75 329.35 53.35 328.99 53.95 328.65 54.55 328.35 55.15 328.09 55.75 327.87 56.35 327.69 56.95 327.52 57.55 327.36 58.15 327.21 58.75 327.06 59.35 326.92 59.95 326.79 60.55 326.67 61.15 326.56 61.75 326.45 62.35 326.35 62.95 326.26 63.55 326.18 64.15 326.11 64.75 326.04 65.35 325.99 65.95 325.93 66.55 325.88 67.14 325.82 67.74 325.77 68.34 325.72 68.94 325.67 69.54 325.62 70.14 325.58 70.74 325.53 71.34 325.49 71.94 325.45 72.54 325.40 73.14 325.37 73.74 325.33 74.34 325.29 74.94 325.26 75.54 325.23 76.14 325.20 76.74 325.18 77.34 325.15 77.94 325.13 78.54 325.11 79.14 325.10 79.74 325.09 80.34 325.08 80.94 325.07 81.54 325.07 82.14 325.07 82.74 325.07 83.34 325.07 83.94 325.07 84.54 325.07 85.14 325.07 85.74 325.08 86.34 325.08 86.94 325.08 87.54 325.09 88.14 325.09 88.74 325.09 89.34 325.10 89.94 325.10 90.54 325.11 91.74 325.12 92.94 325.13 94.14 325.15 95.34 325.16 96.54 325.18 97.74 325.19 98.94 325.21 100.14 325.22 101.34 325.24 102.54 325.27 103.74 325.30 104.94 325.33 106.14 325.37 107.34 325.41 108.54 325.46 109.74 325.50 110.94 325.56 112.14 325.61 113.34 325.67 114.53 325.73 115.73 325.79 116.93 325.85 118.13 325.91 119.33 325.98 120.53 326.04 121.73 326.11 122.93 326.17 124.13 326.24 125.33 326.30 126.53 326.36 127.73 326.43 128.93 326.49 130.13 326.54 131.33 326.60 132.53 326.66 133.73 326.72 134.93 326.78 136.13 326.84 137.33 326.90 138.53 326.97 139.73 327.03 140.93 327.09 142.13 327.16 143.33 327.22 144.53 327.29 145.73 327.35 146.93 327.41 148.13 327.48 149.33 327.54 150.53 327.61 151.73 327.67 152.93 327.73 154.13 327.80 155.33 327.86 156.53 327.92 157.73 327.98 158.93 328.04 160.13 328.10 161.33 328.16 162.52 328.22 163.72 328.28 164.92 328.34 166.12 328.39 167.32 328.45 168.52 328.51 169.72 328.57 170.92 328.63 172.12 328.68 173.32 328.74 174.52 328.80 175.72 328.86 176.92 328.91 178.12 328.97 179.32 329.03 180.52 329.08 181.72 329.14 182.92 329.19 184.12 329.25 185.32 329.30 186.52 329.36 188.92 329.46 191.32 329.57 193.72 329.67 196.12 329.77 198.52 329.87 200.92 329.97 203.32 330.07 205.72 330.17 208.12 330.26 210.51 330.36 212.91 330.45 215.31 330.55 217.71 330.64 220.11 330.73 222.51 330.83 224.91 330.92 227.31 331.01 229.71 331.09 232.11 331.18 234.51 331.27 236.91 331.35 239.31 331.43 241.71 331.51 244.11 331.59 246.51 331.67 248.91 331.75 251.31 331.82 253.71 331.89 256.11 331.96 258.50 332.03 260.90 332.09 263.30 332.16 265.70 332.22 268.10 332.29 270.50 332.35 272.90 332.41 275.30 332.48 277.70 332.54 280.10 332.60 282.50 332.66 284.90 332.72 287.30 332.78 289.70 332.84 292.10 332.89 294.50 332.95 296.90 333.00 299.30 333.06 301.70 333.11 304.10 333.16 306.50 333.21 308.89 333.25 311.29 333.30 313.69 333.34 316.09 333.38 318.49 333.42 320.89 333.46 323.29 333.50 325.69 333.53 328.09 333.57 330.49 333.60 332.89 333.63 335.29 333.65 337.69 333.68 340.09 333.71 342.49 333.74 344.89 333.77 347.29 333.79 349.69 333.82 352.09 333.85 354.49 333.87 356.88 333.90 359.28 333.92 361.68 333.95 364.08 333.97 366.48 334.00 368.88 334.02 371.28 334.04 373.68 334.06 376.08 334.09 378.48 334.11 380.88 334.13 383.28 334.15 385.68 334.17 388.08 334.19 390.48 334.20 392.88 334.22 395.28 334.24 397.68 334.25 400.08 334.27 402.48 334.28 404.87 334.30 407.27 334.31 409.67 334.32 412.07 334.33 414.47 334.34 416.87 334.35 419.27 334.36 421.67 334.37 424.07 334.38 426.47 334.38 428.87 334.39 431.27 334.39 433.67 334.40 436.07 334.40 438.47 334.41 440.87 334.41 443.27 334.42 445.67 334.42 448.07 334.43 450.47 334.43 452.86 334.44 455.26 334.44 457.66 334.45 460.06 334.45 462.46 334.46 464.86 334.46 467.26 334.46 469.66 334.47 472.06 334.47 474.46 334.48 476.86 334.48 479.26 334.48 481.66 334.48 484.06 334.49 486.46 334.49 488.86 334.49 491.26 334.50 493.66 334.50 496.06 334.50 498.46 334.50 500.85 334.50 503.25 334.51 505.65 334.51 508.05 334.51 510.45 334.51 512.85 334.51 515.25 334.51 517.65 334.51 520.05 334.51 522.45 334.51" stroke="#77AC30" stroke-width="1.10"/>
<path d="M42.55 295.92 L43.15 297.43 43.75 298.93 44.35 300.39 44.95 301.85 45.55 303.30 46.15 304.75 46.75 306.19 47.35 307.61 47.95 309.00 48.55 310.37 49.15 311.69 49.75 312.98 50.35 314.22 50.95 315.44 51.55 316.65 52.15 317.85 52.75 319.03 53.35 320.16 53.95 321.24 54.55 322.25 55.15 323.19 55.75 324.05 56.35 324.84 56.95 325.61 57.55 326.36 58.15 327.08 58.75 327.76 59.35 328.41 59.95 329.01 60.55 329.55 61.15 330.03 61.75 330.44 62.35 330.78 62.95 331.09 63.55 331.39 64.15 331.67 64.75 331.94 65.35 332.19 65.95 332.43 66.55 332.64 67.14 332.83 67.74 332.99 68.34 333.13 68.94 333.24 69.54 333.32 70.14 333.37 70.74 333.41 71.34 333.46 71.94 333.50 72.54 333.54 73.14 333.58 73.74 333.61 74.34 333.65 74.94 333.68 75.54 333.71 76.14 333.73 76.74 333.76 77.34 333.78 77.94 333.80 78.54 333.82 79.14 333.83 79.74 333.84 80.34 333.85 80.94 333.85 81.54 333.86 82.14 333.86 82.74 333.86 83.34 333.85 83.94 333.85 84.54 333.84 85.14 333.83 85.74 333.82 86.34 333.81 86.94 333.79 87.54 333.78 88.14 333.76 88.74 333.74 89.34 333.72 89.94 333.71 90.54 333.68 91.74 333.64 92.94 333.60 94.14 333.55 95.34 333.51 96.54 333.46 97.74 333.42 98.94 333.37 100.14 333.33 101.34 333.30 102.54 333.26 103.74 333.22 104.94 333.18 106.14 333.13 107.34 333.09 108.54 333.05 109.74 333.00 110.94 332.96 112.14 332.91 113.34 332.87 114.53 332.82 115.73 332.78 116.93 332.73 118.13 332.69 119.33 332.65 120.53 332.60 121.73 332.56 122.93 332.52 124.13 332.47 125.33 332.43 126.53 332.39 127.73 332.36 128.93 332.32 130.13 332.28 131.33 332.25 132.53 332.21 133.73 332.18 134.93 332.14 136.13 332.11 137.33 332.07 138.53 332.04 139.73 332.01 140.93 331.98 142.13 331.94 143.33 331.91 144.53 331.88 145.73 331.85 146.93 331.82 148.13 331.79 149.33 331.76 150.53 331.73 151.73 331.70 152.93 331.67 154.13 331.64 155.33 331.61 156.53 331.59 157.73 331.56 158.93 331.53 160.13 331.50 161.33 331.48 162.52 331.45 163.72 331.42 164.92 331.40 166.12 331.37 167.32 331.34 168.52 331.32 169.72 331.29 170.92 331.26 172.12 331.24 173.32 331.21 174.52 331.19 175.72 331.16 176.92 331.14 178.12 331.11 179.32 331.09 180.52 331.06 181.72 331.04 182.92 331.01 184.12 330.99 185.32 330.97 186.52 330.94 188.92 330.90 191.32 330.86 193.72 330.82 196.12 330.78 198.52 330.74 200.92 330.70 203.32 330.67 205.72 330.64 208.12 330.60 210.51 330.57 212.91 330.54 215.31 330.51 217.71 330.48 220.11 330.45 222.51 330.42 224.91 330.39 227.31 330.36 229.71 330.33 232.11 330.31 234.51 330.28 236.91 330.26 239.31 330.23 241.71 330.21 244.11 330.19 246.51 330.16 248.91 330.14 251.31 330.12 253.71 330.10 256.11 330.08 258.50 330.06 260.90 330.05 263.30 330.03 265.70 330.01 268.10 329.99 270.50 329.98 272.90 329.96 275.30 329.94 277.70 329.93 280.10 329.91 282.50 329.90 284.90 329.88 287.30 329.86 289.70 329.85 292.10 329.84 294.50 329.82 296.90 329.81 299.30 329.79 301.70 329.78 304.10 329.77 306.50 329.76 308.89 329.75 311.29 329.74 313.69 329.73 316.09 329.72 318.49 329.71 320.89 329.70 323.29 329.69 325.69 329.68 328.09 329.68 330.49 329.67 332.89 329.67 335.29 329.66 337.69 329.66 340.09 329.65 342.49 329.65 344.89 329.64 347.29 329.64 349.69 329.63 352.09 329.63 354.49 329.62 356.88 329.62 359.28 329.61 361.68 329.61 364.08 329.60 366.48 329.60 368.88 329.59 371.28 329.59 373.68 329.59 376.08 329.58 378.48 329.58 380.88 329.58 383.28 329.57 385.68 329.57 388.08 329.57 390.48 329.56 392.88 329.56 395.28 329.56 397.68 329.56 400.08 329.55 402.48 329.55 404.87 329.55 407.27 329.55 409.67 329.55 412.07 329.54 414.47 329.54 416.87 329.54 419.27 329.54 421.67 329.54 424.07 329.54 426.47 329.54 428.87 329.54 431.27 329.54 433.67 329.54 436.07 329.54 438.47 329.54 440.87 329.54 443.27 329.54 445.67 329.54 448.07 329.54 450.47 329.54 452.86 329.54 455.26 329.54 457.66 329.54 460.06 329.54 462.46 329.54 464.86 329.54 467.26 329.54 469.66 329.54 472.06 329.54 474.46 329.54 476.86 329.54 479.26 329.54 481.66 329.54 484.06 329.54 486.46 329.54 488.86 329.54 491.26 329.54 493.66 329.54 496.06 329.54 498.46 329.54 500.85 329.54 503.25 329.54 505.65 329.54 508.05 329.54 510.45 329.54 512.85 329.54 515.25 329.54 517.65 329.54 520.05 329.54 522.45 329.54" stroke="#4DBEEE" stroke-width="1.10"/>
<path d="M42.55 364.74 L43.15 362.39 43.75 360.14 44.35 357.98 44.95 355.93 45.55 354.01 46.15 352.23 46.75 350.60 47.35 349.13 47.95 347.76 48.55 346.48 49.15 345.28 49.75 344.14 50.35 343.06 50.95 342.05 51.55 341.07 52.15 340.14 52.75 339.24 53.35 338.38 53.95 337.56 54.55 336.79 55.15 336.07 55.75 335.41 56.35 334.81 56.95 334.25 57.55 333.72 58.15 333.22 58.75 332.74 59.35 332.29 59.95 331.86 60.55 331.44 61.15 331.02 61.75 330.60 62.35 330.19 62.95 329.78 63.55 329.39 64.15 329.01 64.75 328.64 65.35 328.29 65.95 327.97 66.55 327.66 67.14 327.39 67.74 327.14 68.34 326.93 68.94 326.71 69.54 326.50 70.14 326.29 70.74 326.09 71.34 325.89 71.94 325.70 72.54 325.51 73.14 325.33 73.74 325.15 74.34 324.98 74.94 324.82 75.54 324.66 76.14 324.52 76.74 324.38 77.34 324.25 77.94 324.14 78.54 324.03 79.14 323.94 79.74 323.85 80.34 323.78 80.94 323.72 81.54 323.67 82.14 323.64 82.74 323.61 83.34 323.58 83.94 323.55 84.54 323.53 85.14 323.50 85.74 323.47 86.34 323.45 86.94 323.43 87.54 323.41 88.14 323.39 88.74 323.37 89.34 323.35 89.94 323.33 90.54 323.32 91.74 323.29 92.94 323.28 94.14 323.26 95.34 323.26 96.54 323.27 97.74 323.28 98.94 323.30 100.14 323.34 101.34 323.38 102.54 323.43 103.74 323.48 104.94 323.54 106.14 323.61 107.34 323.69 108.54 323.77 109.74 323.85 110.94 323.94 112.14 324.03 113.34 324.13 114.53 324.22 115.73 324.32 116.93 324.42 118.13 324.53 119.33 324.63 120.53 324.73 121.73 324.84 122.93 324.94 124.13 325.04 125.33 325.14 126.53 325.23 127.73 325.33 128.93 325.42 130.13 325.50 131.33 325.59 132.53 325.68 133.73 325.77 134.93 325.86 136.13 325.95 137.33 326.05 138.53 326.14 139.73 326.24 140.93 326.34 142.13 326.44 143.33 326.54 144.53 326.63 145.73 326.73 146.93 326.83 148.13 326.93 149.33 327.03 150.53 327.12 151.73 327.22 152.93 327.31 154.13 327.41 155.33 327.50 156.53 327.59 157.73 327.67 158.93 327.76 160.13 327.84 161.33 327.92 162.52 328.00 163.72 328.08 164.92 328.16 166.12 328.24 167.32 328.32 168.52 328.40 169.72 328.48 170.92 328.56 172.12 328.63 173.32 328.71 174.52 328.79 175.72 328.86 176.92 328.94 178.12 329.01 179.32 329.09 180.52 329.16 181.72 329.23 182.92 329.30 184.12 329.37 185.32 329.44 186.52 329.51 188.92 329.64 191.32 329.77 193.72 329.89 196.12 330.01 198.52 330.13 200.92 330.24 203.32 330.35 205.72 330.45 208.12 330.56 210.51 330.66 212.91 330.76 215.31 330.86 217.71 330.95 220.11 331.05 222.51 331.14 224.91 331.23 227.31 331.32 229.71 331.41 232.11 331.50 234.51 331.58 236.91 331.66 239.31 331.74 241.71 331.82 244.11 331.89 246.51 331.96 248.91 332.03 251.31 332.10 253.71 332.17 256.11 332.23 258.50 332.29 260.90 332.35 263.30 332.40 265.70 332.46 268.10 332.52 270.50 332.57 272.90 332.63 275.30 332.68 277.70 332.73 280.10 332.78 282.50 332.83 284.90 332.88 287.30 332.93 289.70 332.98 292.10 333.03 294.50 333.07 296.90 333.11 299.30 333.16 301.70 333.20 304.10 333.24 306.50 333.28 308.89 333.32 311.29 333.35 313.69 333.39 316.09 333.42 318.49 333.46 320.89 333.49 323.29 333.52 325.69 333.54 328.09 333.57 330.49 333.60 332.89 333.62 335.29 333.64 337.69 333.67 340.09 333.69 342.49 333.71 344.89 333.74 347.29 333.76 349.69 333.78 352.09 333.80 354.49 333.83 356.88 333.85 359.28 333.87 361.68 333.89 364.08 333.91 366.48 333.93 368.88 333.95 371.28 333.96 373.68 333.98 376.08 334.00 378.48 334.02 380.88 334.03 383.28 334.05 385.68 334.07 388.08 334.08 390.48 334.10 392.88 334.11 395.28 334.13 397.68 334.14 400.08 334.15 402.48 334.16 404.87 334.18 407.27 334.19 409.67 334.20 412.07 334.21 414.47 334.22 416.87 334.22 419.27 334.23 421.67 334.24 424.07 334.25 426.47 334.25 428.87 334.26 431.27 334.26 433.67 334.27 436.07 334.27 438.47 334.28 440.87 334.28 443.27 334.29 445.67 334.29 448.07 334.30 450.47 334.30 452.86 334.31 455.26 334.31 457.66 334.32 460.06 334.32 462.46 334.32 464.86 334.33 467.26 334.33 469.66 334.34 472.06 334.34 474.46 334.34 476.86 334.35 479.26 334.35 481.66 334.35 484.06 334.36 486.46 334.36 488.86 334.36 491.26 334.36 493.66 334.37 496.06 334.37 498.46 334.37 500.85 334.37 503.25 334.38 505.65 334.38 508.05 334.38 510.45 334.38 512.85 334.38 515.25 334.38 517.65 334.38 520.05 334.38 522.45 334.38" stroke="#A2142F" stroke-width="1.10"/>
<path d="M42.55 321.30 L43.15 322.71 43.75 324.07 44.35 325.37 44.95 326.60 45.55 327.75 46.15 328.79 46.75 329.71 47.35 330.50 47.95 331.17 48.55 331.83 49.15 332.46 49.75 333.06 50.35 333.63 50.95 334.14 51.55 334.60 52.15 334.99 52.75 335.31 53.35 335.54 53.95 335.69 54.55 335.77 55.15 335.85 55.75 335.93 56.35 335.99 56.95 336.05 57.55 336.10 58.15 336.14 58.75 336.18 59.35 336.20 59.95 336.21 60.55 336.21 61.15 336.20 61.75 336.17 62.35 336.13 62.95 336.09 63.55 336.03 64.15 335.96 64.75 335.89 65.35 335.81 65.95 335.72 66.55 335.63 67.14 335.55 67.74 335.46 68.34 335.37 68.94 335.28 69.54 335.20 70.14 335.11 70.74 335.03 71.34 334.93 71.94 334.83 72.54 334.73 73.14 334.62 73.74 334.51 74.34 334.40 74.94 334.28 75.54 334.17 76.14 334.05 76.74 333.94 77.34 333.82 77.94 333.71 78.54 333.60 79.14 333.50 79.74 333.39 80.34 333.30 80.94 333.21 81.54 333.12 82.14 333.04 82.74 332.97 83.34 332.89 83.94 332.82 84.54 332.74 85.14 332.67 85.74 332.60 86.34 332.53 86.94 332.46 87.54 332.39 88.14 332.33 88.74 332.26 89.34 332.20 89.94 332.14 90.54 332.07 91.74 331.95 92.94 331.84 94.14 331.73 95.34 331.62 96.54 331.52 97.74 331.42 98.94 331.33 100.14 331.24 101.34 331.16 102.54 331.08 103.74 331.00 104.94 330.92 106.14 330.85 107.34 330.77 108.54 330.70 109.74 330.63 110.94 330.56 112.14 330.50 113.34 330.44 114.53 330.37 115.73 330.31 116.93 330.25 118.13 330.19 119.33 330.14 120.53 330.08 121.73 330.03 122.93 329.97 124.13 329.92 125.33 329.87 126.53 329.81 127.73 329.76 128.93 329.71 130.13 329.66 131.33 329.61 132.53 329.56 133.73 329.50 134.93 329.45 136.13 329.39 137.33 329.34 138.53 329.28 139.73 329.22 140.93 329.17 142.13 329.11 143.33 329.06 144.53 329.01 145.73 328.96 146.93 328.91 148.13 328.87 149.33 328.83 150.53 328.79 151.73 328.75 152.93 328.72 154.13 328.69 155.33 328.67 156.53 328.65 157.73 328.64 158.93 328.63 160.13 328.62 161.33 328.62 162.52 328.62 163.72 328.62 164.92 328.62 166.12 328.62 167.32 328.62 168.52 328.62 169.72 328.62 170.92 328.62 172.12 328.62 173.32 328.62 174.52 328.62 175.72 328.62 176.92 328.62 178.12 328.62 179.32 328.62 180.52 328.62 181.72 328.62 182.92 328.62 184.12 328.62 185.32 328.62 186.52 328.62 188.92 328.62 191.32 328.62 193.72 328.62 196.12 328.62 198.52 328.62 200.92 328.63 203.32 328.63 205.72 328.63 208.12 328.63 210.51 328.63 212.91 328.64 215.31 328.64 217.71 328.64 220.11 328.65 222.51 328.66 224.91 328.66 227.31 328.67 229.71 328.68 232.11 328.68 234.51 328.69 236.91 328.70 239.31 328.71 241.71 328.72 244.11 328.73 246.51 328.74 248.91 328.75 251.31 328.76 253.71 328.77 256.11 328.78 258.50 328.79 260.90 328.80 263.30 328.81 265.70 328.82 268.10 328.83 270.50 328.84 272.90 328.85 275.30 328.86 277.70 328.87 280.10 328.88 282.50 328.89 284.90 328.90 287.30 328.91 289.70 328.92 292.10 328.93 294.50 328.94 296.90 328.95 299.30 328.97 301.70 328.98 304.10 329.00 306.50 329.01 308.89 329.03 311.29 329.04 313.69 329.06 316.09 329.07 318.49 329.09 320.89 329.11 323.29 329.12 325.69 329.14 328.09 329.16 330.49 329.17 332.89 329.19 335.29 329.21 337.69 329.23 340.09 329.24 342.49 329.26 344.89 329.28 347.29 329.30 349.69 329.31 352.09 329.33 354.49 329.35 356.88 329.37 359.28 329.38 361.68 329.40 364.08 329.42 366.48 329.43 368.88 329.45 371.28 329.47 373.68 329.48 376.08 329.50 378.48 329.51 380.88 329.52 383.28 329.54 385.68 329.55 388.08 329.56 390.48 329.58 392.88 329.59 395.28 329.60 397.68 329.61 400.08 329.62 402.48 329.63 404.87 329.63 407.27 329.64 409.67 329.65 412.07 329.65 414.47 329.66 416.87 329.66 419.27 329.67 421.67 329.67 424.07 329.67 426.47 329.67 428.87 329.67 431.27 329.67 433.67 329.67 436.07 329.67 438.47 329.67 440.87 329.67 443.27 329.67 445.67 329.67 448.07 329.67 450.47 329.67 452.86 329.67 455.26 329.67 457.66 329.67 460.06 329.67 462.46 329.67 464.86 329.67 467.26 329.67 469.66 329.67 472.06 329.67 474.46 329.67 476.86 329.67 479.26 329.67 481.66 329.67 484.06 329.67 486.46 329.67 488.86 329.67 491.26 329.67 493.66 329.67 496.06 329.67 498.46 329.67 500.85 329.67 503.25 329.67 505.65 329.67 508.05 329.67 510.45 329.67 512.85 329.67 515.25 329.67 517.65 329.67 520.05 329.67 522.45 329.67" stroke="#0072BD" stroke-width="1.10"/>
<path d="M42.55 387.50 L43.15 386.52 43.75 385.56 44.35 384.61 44.95 383.67 45.55 382.74 46.15 381.83 46.75 380.92 47.35 380.03 47.95 379.15 48.55 378.28 49.15 377.42 49.75 376.57 50.35 375.73 50.95 374.90 51.55 374.08 52.15 373.27 52.75 372.47 53.35 371.68 53.95 370.90 54.55 370.14 55.15 369.38 55.75 368.63 56.35 367.89 56.95 367.15 57.55 366.43 58.15 365.72 58.75 365.01 59.35 364.32 59.95 363.63 60.55 362.95 61.15 362.28 61.75 361.62 62.35 360.97 62.95 360.32 63.55 359.68 64.15 359.05 64.75 358.43 65.35 357.82 65.95 357.21 66.55 356.61 67.14 356.02 67.74 355.44 68.34 354.86 68.94 354.29 69.54 353.73 70.14 353.17 70.74 352.62 71.34 352.08 71.94 351.55 72.54 351.02 73.14 350.50 73.74 349.98 74.34 349.47 74.94 348.97 75.54 348.47 76.14 347.98 76.74 347.50 77.34 347.02 77.94 346.55 78.54 346.08 79.14 345.62 79.74 345.17 80.34 344.72 80.94 344.27 81.54 343.83 82.14 343.40 82.74 342.97 83.34 342.55 83.94 342.14 84.54 341.72 85.14 341.32 85.74 340.92 86.34 340.52 86.94 340.13 87.54 339.74 88.14 339.36 88.74 338.98 89.34 338.61 89.94 338.24 90.54 337.88 91.74 337.17 92.94 336.47 94.14 335.79 95.34 335.13 96.54 334.49 97.74 333.86 98.94 333.24 100.14 332.64 101.34 332.06 102.54 331.49 103.74 330.94 104.94 330.39 106.14 329.87 107.34 329.35 108.54 328.85 109.74 328.36 110.94 327.88 112.14 327.41 113.34 326.96 114.53 326.52 115.73 326.08 116.93 325.66 118.13 325.25 119.33 324.85 120.53 324.46 121.73 324.08 122.93 323.70 124.13 323.34 125.33 322.99 126.53 322.64 127.73 322.30 128.93 321.98 130.13 321.66 131.33 321.34 132.53 321.04 133.73 320.74 134.93 320.45 136.13 320.17 137.33 319.89 138.53 319.62 139.73 319.36 140.93 319.11 142.13 318.86 143.33 318.61 144.53 318.38 145.73 318.14 146.93 317.92 148.13 317.70 149.33 317.48 150.53 317.27 151.73 317.07 152.93 316.87 154.13 316.68 155.33 316.49 156.53 316.30 157.73 316.12 158.93 315.95 160.13 315.77 161.33 315.61 162.52 315.44 163.72 315.28 164.92 315.13 166.12 314.98 167.32 314.83 168.52 314.69 169.72 314.55 170.92 314.41 172.12 314.28 173.32 314.15 174.52 314.02 175.72 313.89 176.92 313.77 178.12 313.66 179.32 313.54 180.52 313.43 181.72 313.32 182.92 313.21 184.12 313.11 185.32 313.01 186.52 312.91 188.92 312.72 191.32 312.54 193.72 312.36 196.12 312.20 198.52 312.04 200.92 311.90 203.32 311.75 205.72 311.62 208.12 311.49 210.51 311.37 212.91 311.25 215.31 311.14 217.71 311.04 220.11 310.94 222.51 310.85 224.91 310.76 227.31 310.67 229.71 310.59 232.11 310.51 234.51 310.44 236.91 310.37 239.31 310.30 241.71 310.24 244.11 310.18 246.51 310.12 248.91 310.07 251.31 310.01 253.71 309.96 256.11 309.92 258.50 309.87 260.90 309.83 263.30 309.79 265.70 309.75 268.10 309.71 270.50 309.68 272.90 309.65 275.30 309.61 277.70 309.58 280.10 309.56 282.50 309.53 284.90 309.50 287.30 309.48 289.70 309.46 292.10 309.43 294.50 309.41 296.90 309.39 299.30 309.37 301.70 309.35 304.10 309.34 306.50 309.32 308.89 309.31 311.29 309.29 313.69 309.28 316.09 309.26 318.49 309.25 320.89 309.24 323.29 309.23 325.69 309.22 328.09 309.20 330.49 309.19 332.89 309.19 335.29 309.18 337.69 309.17 340.09 309.16 342.49 309.15 344.89 309.14 347.29 309.14 349.69 309.13 352.09 309.12 354.49 309.12 356.88 309.11 359.28 309.11 361.68 309.10 364.08 309.10 366.48 309.09 368.88 309.09 371.28 309.08 373.68 309.08 376.08 309.08 378.48 309.07 380.88 309.07 383.28 309.06 385.68 309.06 388.08 309.06 390.48 309.06 392.88 309.05 395.28 309.05 397.68 309.05 400.08 309.05 402.48 309.04 404.87 309.04 407.27 309.04 409.67 309.04 412.07 309.04 414.47 309.03 416.87 309.03 419.27 309.03 421.67 309.03 424.07 309.03 426.47 309.03 428.87 309.03 431.27 309.02 433.67 309.02 436.07 309.02 438.47 309.02 440.87 309.02 443.27 309.02 445.67 309.02 448.07 309.02 450.47 309.02 452.86 309.02 455.26 309.01 457.66 309.01 460.06 309.01 462.46 309.01 464.86 309.01 467.26 309.01 469.66 309.01 472.06 309.01 474.46 309.01 476.86 309.01 479.26 309.01 481.66 309.01 484.06 309.01 486.46 309.01 488.86 309.01 491.26 309.01 493.66 309.01 496.06 309.01 498.46 309.01 500.85 309.01 503.25 309.01 505.65 309.01 508.05 309.00 510.45 309.00 512.85 309.00 515.25 309.00 517.65 309.00 520.05 309.00 522.45 309.00" stroke="#D95319" stroke-width="1.10" stroke-dasharray="9.1 5.05"/>
<path d="M42.55 230.50 L43.15 231.80 43.75 233.08 44.35 234.35 44.95 235.60 45.55 236.84 46.15 238.06 46.75 239.27 47.35 240.46 47.95 241.64 48.55 242.80 49.15 243.95 49.75 245.08 50.35 246.20 50.95 247.30 51.55 248.39 52.15 249.47 52.75 250.54 53.35 251.59 53.95 252.63 54.55 253.65 55.15 254.66 55.75 255.66 56.35 256.65 56.95 257.63 57.55 258.59 58.15 259.54 58.75 260.48 59.35 261.41 59.95 262.33 60.55 263.23 61.15 264.12 61.75 265.01 62.35 265.88 62.95 266.74 63.55 267.59 64.15 268.43 64.75 269.26 65.35 270.08 65.95 270.88 66.55 271.68 67.14 272.47 67.74 273.25 68.34 274.02 68.94 274.78 69.54 275.53 70.14 276.27 70.74 277.00 71.34 277.72 71.94 278.44 72.54 279.14 73.14 279.84 73.74 280.53 74.34 281.20 74.94 281.87 75.54 282.54 76.14 283.19 76.74 283.84 77.34 284.47 77.94 285.10 78.54 285.73 79.14 286.34 79.74 286.95 80.34 287.55 80.94 288.14 81.54 288.72 82.14 289.30 82.74 289.87 83.34 290.43 83.94 290.99 84.54 291.54 85.14 292.08 85.74 292.61 86.34 293.14 86.94 293.66 87.54 294.18 88.14 294.69 88.74 295.19 89.34 295.69 89.94 296.18 90.54 296.66 91.74 297.61 92.94 298.54 94.14 299.44 95.34 300.33 96.54 301.19 97.74 302.03 98.94 302.84 100.14 303.64 101.34 304.42 102.54 305.18 103.74 305.92 104.94 306.64 106.14 307.35 107.34 308.03 108.54 308.70 109.74 309.36 110.94 309.99 112.14 310.61 113.34 311.22 114.53 311.81 115.73 312.39 116.93 312.95 118.13 313.50 119.33 314.03 120.53 314.56 121.73 315.07 122.93 315.56 124.13 316.05 125.33 316.52 126.53 316.98 127.73 317.43 128.93 317.87 130.13 318.29 131.33 318.71 132.53 319.12 133.73 319.51 134.93 319.90 136.13 320.28 137.33 320.64 138.53 321.00 139.73 321.35 140.93 321.69 142.13 322.03 143.33 322.35 144.53 322.67 145.73 322.97 146.93 323.28 148.13 323.57 149.33 323.86 150.53 324.13 151.73 324.41 152.93 324.67 154.13 324.93 155.33 325.18 156.53 325.43 157.73 325.67 158.93 325.91 160.13 326.13 161.33 326.36 162.52 326.58 163.72 326.79 164.92 326.99 166.12 327.20 167.32 327.39 168.52 327.58 169.72 327.77 170.92 327.95 172.12 328.13 173.32 328.31 174.52 328.48 175.72 328.64 176.92 328.80 178.12 328.96 179.32 329.11 180.52 329.26 181.72 329.41 182.92 329.55 184.12 329.69 185.32 329.82 186.52 329.96 188.92 330.21 191.32 330.45 193.72 330.68 196.12 330.90 198.52 331.11 200.92 331.31 203.32 331.49 205.72 331.67 208.12 331.84 210.51 332.01 212.91 332.16 215.31 332.31 217.71 332.45 220.11 332.58 222.51 332.71 224.91 332.83 227.31 332.94 229.71 333.05 232.11 333.15 234.51 333.25 236.91 333.34 239.31 333.43 241.71 333.52 244.11 333.60 246.51 333.67 248.91 333.75 251.31 333.82 253.71 333.88 256.11 333.94 258.50 334.00 260.90 334.06 263.30 334.11 265.70 334.17 268.10 334.21 270.50 334.26 272.90 334.31 275.30 334.35 277.70 334.39 280.10 334.43 282.50 334.46 284.90 334.50 287.30 334.53 289.70 334.56 292.10 334.59 294.50 334.62 296.90 334.64 299.30 334.67 301.70 334.69 304.10 334.72 306.50 334.74 308.89 334.76 311.29 334.78 313.69 334.80 316.09 334.82 318.49 334.83 320.89 334.85 323.29 334.87 325.69 334.88 328.09 334.89 330.49 334.91 332.89 334.92 335.29 334.93 337.69 334.94 340.09 334.95 342.49 334.96 344.89 334.97 347.29 334.98 349.69 334.99 352.09 335.00 354.49 335.01 356.88 335.02 359.28 335.02 361.68 335.03 364.08 335.04 366.48 335.04 368.88 335.05 371.28 335.06 373.68 335.06 376.08 335.07 378.48 335.07 380.88 335.08 383.28 335.08 385.68 335.08 388.08 335.09 390.48 335.09 392.88 335.10 395.28 335.10 397.68 335.10 400.08 335.11 402.48 335.11 404.87 335.11 407.27 335.11 409.67 335.12 412.07 335.12 414.47 335.12 416.87 335.12 419.27 335.13 421.67 335.13 424.07 335.13 426.47 335.13 428.87 335.13 431.27 335.13 433.67 335.14 436.07 335.14 438.47 335.14 440.87 335.14 443.27 335.14 445.67 335.14 448.07 335.14 450.47 335.15 452.86 335.15 455.26 335.15 457.66 335.15 460.06 335.15 462.46 335.15 464.86 335.15 467.26 335.15 469.66 335.15 472.06 335.15 474.46 335.15 476.86 335.15 479.26 335.15 481.66 335.16 484.06 335.16 486.46 335.16 488.86 335.16 491.26 335.16 493.66 335.16 496.06 335.16 498.46 335.16 500.85 335.16 503.25 335.16 505.65 335.16 508.05 335.16 510.45 335.16 512.85 335.16 515.25 335.16 517.65 335.16 520.05 335.16 522.45 335.16" stroke="#EDB120" stroke-width="1.10" stroke-dasharray="9.1 5.05"/>
<path d="M42.55 361.33 L43.15 361.01 43.75 360.69 44.35 360.37 44.95 360.06 45.55 359.75 46.15 359.44 46.75 359.14 47.35 358.84 47.95 358.55 48.55 358.26 49.15 357.97 49.75 357.69 50.35 357.41 50.95 357.13 51.55 356.86 52.15 356.59 52.75 356.32 53.35 356.06 53.95 355.80 54.55 355.55 55.15 355.29 55.75 355.04 56.35 354.80 56.95 354.55 57.55 354.31 58.15 354.07 58.75 353.84 59.35 353.61 59.95 353.38 60.55 353.15 61.15 352.93 61.75 352.71 62.35 352.49 62.95 352.27 63.55 352.06 64.15 351.85 64.75 351.64 65.35 351.44 65.95 351.24 66.55 351.04 67.14 350.84 67.74 350.65 68.34 350.45 68.94 350.26 69.54 350.08 70.14 349.89 70.74 349.71 71.34 349.53 71.94 349.35 72.54 349.17 73.14 349.00 73.74 348.83 74.34 348.66 74.94 348.49 75.54 348.32 76.14 348.16 76.74 348.00 77.34 347.84 77.94 347.68 78.54 347.53 79.14 347.37 79.74 347.22 80.34 347.07 80.94 346.92 81.54 346.78 82.14 346.63 82.74 346.49 83.34 346.35 83.94 346.21 84.54 346.07 85.14 345.94 85.74 345.81 86.34 345.67 86.94 345.54 87.54 345.41 88.14 345.29 88.74 345.16 89.34 345.04 89.94 344.91 90.54 344.79 91.74 344.56 92.94 344.32 94.14 344.10 95.34 343.88 96.54 343.66 97.74 343.45 98.94 343.25 100.14 343.05 101.34 342.85 102.54 342.66 103.74 342.48 104.94 342.30 106.14 342.12 107.34 341.95 108.54 341.78 109.74 341.62 110.94 341.46 112.14 341.30 113.34 341.15 114.53 341.01 115.73 340.86 116.93 340.72 118.13 340.58 119.33 340.45 120.53 340.32 121.73 340.19 122.93 340.07 124.13 339.95 125.33 339.83 126.53 339.71 127.73 339.60 128.93 339.49 130.13 339.39 131.33 339.28 132.53 339.18 133.73 339.08 134.93 338.98 136.13 338.89 137.33 338.80 138.53 338.71 139.73 338.62 140.93 338.54 142.13 338.45 143.33 338.37 144.53 338.29 145.73 338.21 146.93 338.14 148.13 338.07 149.33 337.99 150.53 337.92 151.73 337.86 152.93 337.79 154.13 337.73 155.33 337.66 156.53 337.60 157.73 337.54 158.93 337.48 160.13 337.42 161.33 337.37 162.52 337.31 163.72 337.26 164.92 337.21 166.12 337.16 167.32 337.11 168.52 337.06 169.72 337.02 170.92 336.97 172.12 336.93 173.32 336.88 174.52 336.84 175.72 336.80 176.92 336.76 178.12 336.72 179.32 336.68 180.52 336.64 181.72 336.61 182.92 336.57 184.12 336.54 185.32 336.50 186.52 336.47 188.92 336.41 191.32 336.35 193.72 336.29 196.12 336.23 198.52 336.18 200.92 336.13 203.32 336.08 205.72 336.04 208.12 336.00 210.51 335.96 212.91 335.92 215.31 335.88 217.71 335.85 220.11 335.81 222.51 335.78 224.91 335.75 227.31 335.72 229.71 335.70 232.11 335.67 234.51 335.65 236.91 335.62 239.31 335.60 241.71 335.58 244.11 335.56 246.51 335.54 248.91 335.52 251.31 335.50 253.71 335.49 256.11 335.47 258.50 335.46 260.90 335.44 263.30 335.43 265.70 335.42 268.10 335.40 270.50 335.39 272.90 335.38 275.30 335.37 277.70 335.36 280.10 335.35 282.50 335.34 284.90 335.33 287.30 335.33 289.70 335.32 292.10 335.31 294.50 335.30 296.90 335.30 299.30 335.29 301.70 335.28 304.10 335.28 306.50 335.27 308.89 335.27 311.29 335.26 313.69 335.26 316.09 335.25 318.49 335.25 320.89 335.25 323.29 335.24 325.69 335.24 328.09 335.23 330.49 335.23 332.89 335.23 335.29 335.23 337.69 335.22 340.09 335.22 342.49 335.22 344.89 335.21 347.29 335.21 349.69 335.21 352.09 335.21 354.49 335.21 356.88 335.20 359.28 335.20 361.68 335.20 364.08 335.20 366.48 335.20 368.88 335.20 371.28 335.19 373.68 335.19 376.08 335.19 378.48 335.19 380.88 335.19 383.28 335.19 385.68 335.19 388.08 335.19 390.48 335.19 392.88 335.18 395.28 335.18 397.68 335.18 400.08 335.18 402.48 335.18 404.87 335.18 407.27 335.18 409.67 335.18 412.07 335.18 414.47 335.18 416.87 335.18 419.27 335.18 421.67 335.18 424.07 335.18 426.47 335.18 428.87 335.18 431.27 335.17 433.67 335.17 436.07 335.17 438.47 335.17 440.87 335.17 443.27 335.17 445.67 335.17 448.07 335.17 450.47 335.17 452.86 335.17 455.26 335.17 457.66 335.17 460.06 335.17 462.46 335.17 464.86 335.17 467.26 335.17 469.66 335.17 472.06 335.17 474.46 335.17 476.86 335.17 479.26 335.17 481.66 335.17 484.06 335.17 486.46 335.17 488.86 335.17 491.26 335.17 493.66 335.17 496.06 335.17 498.46 335.17 500.85 335.17 503.25 335.17 505.65 335.17 508.05 335.17 510.45 335.17 512.85 335.17 515.25 335.17 517.65 335.17 520.05 335.17 522.45 335.17" stroke="#7E2F8E" stroke-width="1.10" stroke-dasharray="9.1 5.05"/>
<path d="M42.55 387.50 L43.15 386.85 43.75 386.21 44.35 385.57 44.95 384.95 45.55 384.33 46.15 383.72 46.75 383.12 47.35 382.52 47.95 381.93 48.55 381.35 49.15 380.78 49.75 380.21 50.35 379.65 50.95 379.10 51.55 378.55 52.15 378.01 52.75 377.48 53.35 376.96 53.95 376.44 54.55 375.92 55.15 375.42 55.75 374.92 56.35 374.42 56.95 373.94 57.55 373.45 58.15 372.98 58.75 372.51 59.35 372.05 59.95 371.59 60.55 371.13 61.15 370.69 61.75 370.25 62.35 369.81 62.95 369.38 63.55 368.96 64.15 368.54 64.75 368.12 65.35 367.71 65.95 367.31 66.55 366.91 67.14 366.51 67.74 366.12 68.34 365.74 68.94 365.36 69.54 364.99 70.14 364.61 70.74 364.25 71.34 363.89 71.94 363.53 72.54 363.18 73.14 362.83 73.74 362.49 74.34 362.15 74.94 361.81 75.54 361.48 76.14 361.15 76.74 360.83 77.34 360.51 77.94 360.20 78.54 359.89 79.14 359.58 79.74 359.28 80.34 358.98 80.94 358.68 81.54 358.39 82.14 358.10 82.74 357.82 83.34 357.53 83.94 357.26 84.54 356.98 85.14 356.71 85.74 356.44 86.34 356.18 86.94 355.92 87.54 355.66 88.14 355.41 88.74 355.15 89.34 354.91 89.94 354.66 90.54 354.42 91.74 353.94 92.94 353.48 94.14 353.03 95.34 352.59 96.54 352.16 97.74 351.74 98.94 351.33 100.14 350.93 101.34 350.54 102.54 350.16 103.74 349.79 104.94 349.43 106.14 349.08 107.34 348.73 108.54 348.40 109.74 348.07 110.94 347.75 112.14 347.44 113.34 347.14 114.53 346.84 115.73 346.56 116.93 346.27 118.13 346.00 119.33 345.73 120.53 345.47 121.73 345.22 122.93 344.97 124.13 344.73 125.33 344.49 126.53 344.26 127.73 344.04 128.93 343.82 130.13 343.60 131.33 343.40 132.53 343.19 133.73 342.99 134.93 342.80 136.13 342.61 137.33 342.43 138.53 342.25 139.73 342.07 140.93 341.90 142.13 341.74 143.33 341.58 144.53 341.42 145.73 341.26 146.93 341.11 148.13 340.97 149.33 340.82 150.53 340.68 151.73 340.55 152.93 340.41 154.13 340.28 155.33 340.16 156.53 340.03 157.73 339.91 158.93 339.80 160.13 339.68 161.33 339.57 162.52 339.46 163.72 339.36 164.92 339.25 166.12 339.15 167.32 339.05 168.52 338.96 169.72 338.86 170.92 338.77 172.12 338.68 173.32 338.60 174.52 338.51 175.72 338.43 176.92 338.35 178.12 338.27 179.32 338.19 180.52 338.12 181.72 338.05 182.92 337.98 184.12 337.91 185.32 337.84 186.52 337.77 188.92 337.65 191.32 337.52 193.72 337.41 196.12 337.30 198.52 337.20 200.92 337.10 203.32 337.00 205.72 336.91 208.12 336.83 210.51 336.75 212.91 336.67 215.31 336.60 217.71 336.53 220.11 336.46 222.51 336.40 224.91 336.34 227.31 336.28 229.71 336.23 232.11 336.17 234.51 336.13 236.91 336.08 239.31 336.03 241.71 335.99 244.11 335.95 246.51 335.91 248.91 335.88 251.31 335.84 253.71 335.81 256.11 335.78 258.50 335.75 260.90 335.72 263.30 335.69 265.70 335.67 268.10 335.64 270.50 335.62 272.90 335.60 275.30 335.58 277.70 335.56 280.10 335.54 282.50 335.52 284.90 335.50 287.30 335.49 289.70 335.47 292.10 335.46 294.50 335.44 296.90 335.43 299.30 335.42 301.70 335.40 304.10 335.39 306.50 335.38 308.89 335.37 311.29 335.36 313.69 335.35 316.09 335.34 318.49 335.33 320.89 335.33 323.29 335.32 325.69 335.31 328.09 335.30 330.49 335.30 332.89 335.29 335.29 335.28 337.69 335.28 340.09 335.27 342.49 335.27 344.89 335.26 347.29 335.26 349.69 335.25 352.09 335.25 354.49 335.25 356.88 335.24 359.28 335.24 361.68 335.23 364.08 335.23 366.48 335.23 368.88 335.22 371.28 335.22 373.68 335.22 376.08 335.22 378.48 335.21 380.88 335.21 383.28 335.21 385.68 335.21 388.08 335.21 390.48 335.20 392.88 335.20 395.28 335.20 397.68 335.20 400.08 335.20 402.48 335.20 404.87 335.19 407.27 335.19 409.67 335.19 412.07 335.19 414.47 335.19 416.87 335.19 419.27 335.19 421.67 335.19 424.07 335.19 426.47 335.18 428.87 335.18 431.27 335.18 433.67 335.18 436.07 335.18 438.47 335.18 440.87 335.18 443.27 335.18 445.67 335.18 448.07 335.18 450.47 335.18 452.86 335.18 455.26 335.18 457.66 335.18 460.06 335.18 462.46 335.17 464.86 335.17 467.26 335.17 469.66 335.17 472.06 335.17 474.46 335.17 476.86 335.17 479.26 335.17 481.66 335.17 484.06 335.17 486.46 335.17 488.86 335.17 491.26 335.17 493.66 335.17 496.06 335.17 498.46 335.17 500.85 335.17 503.25 335.17 505.65 335.17 508.05 335.17 510.45 335.17 512.85 335.17 515.25 335.17 517.65 335.17 520.05 335.17 522.45 335.17" stroke="#77AC30" stroke-width="1.10" stroke-dasharray="9.1 5.05"/>
</g>
<g class="tl"><text x="42.55" y="405.90" text-anchor="middle">0</text>
<text x="90.54" y="405.90" text-anchor="middle">1</text>
<text x="138.53" y="405.90" text-anchor="middle">2</text>
<text x="186.52" y="405.90" text-anchor="middle">3</text>
<text x="234.51" y="405.90" text-anchor="middle">4</text>
<text x="282.50" y="405.90" text-anchor="middle">5</text>
<text x="330.49" y="405.90" text-anchor="middle">6</text>
<text x="378.48" y="405.90" text-anchor="middle">7</text>
<text x="426.47" y="405.90" text-anchor="middle">8</text>
<text x="474.46" y="405.90" text-anchor="middle">9</text>
<text x="522.45" y="405.90" text-anchor="middle">10</text>
<text x="37.90" y="235.40" text-anchor="end">4</text>
<text x="37.90" y="287.73" text-anchor="end">2</text>
<text x="37.90" y="340.07" text-anchor="end">0</text>
<text x="37.90" y="392.40" text-anchor="end">-2</text></g>
<text x="283" y="424.6" text-anchor="middle" class="xl">Time(s)</text>
<g transform="rotate(-90)" text-anchor="middle">
<text x="-355.95" y="18.80" class="yl it">x</text>
<text x="-349.85" y="21.00" class="ys it">i</text>
<text x="-346.00" y="21.00" class="ys">2</text>
<text x="-340.30" y="18.80" class="yl">,</text>
<text x="-334.25" y="18.80" class="yl it">i</text>
<text x="-321.70" y="20.80" class="yl eq">=</text>
<text x="-307.95" y="18.80" class="yl">1</text>
<text x="-302.30" y="18.80" class="yl">,</text>
<text x="-296.30" y="18.80" class="yl">.</text>
<text x="-289.70" y="18.80" class="yl">.</text>
<text x="-283.00" y="18.80" class="yl">.</text>
<text x="-276.30" y="18.80" class="yl">,</text>
<text x="-264.50" y="18.80" class="yl">10</text>
</g>
<rect x="435.00" y="196.70" width="111.00" height="182.70" fill="#fff" stroke="#333" stroke-width="1.4"/>
<path d="M439.1 206.10 H483.5" stroke="#0072BD" stroke-width="1.2" fill="none"/>
<text x="487.6" y="209.60" class="li" textLength="44.8" lengthAdjust="spacing">follower</text>
<text x="532.0" y="210.50" class="sub">12</text>
<path d="M439.1 220.98 H483.5" stroke="#D95319" stroke-width="1.2" fill="none"/>
<text x="487.6" y="224.48" class="li" textLength="44.8" lengthAdjust="spacing">follower</text>
<text x="532.0" y="225.38" class="sub">22</text>
<path d="M439.1 235.86 H483.5" stroke="#EDB120" stroke-width="1.2" fill="none"/>
<text x="487.6" y="239.36" class="li" textLength="44.8" lengthAdjust="spacing">follower</text>
<text x="532.0" y="240.26" class="sub">32</text>
<path d="M439.1 250.74 H483.5" stroke="#7E2F8E" stroke-width="1.2" fill="none"/>
<text x="487.6" y="254.24" class="li" textLength="44.8" lengthAdjust="spacing">follower</text>
<text x="532.0" y="255.14" class="sub">42</text>
<path d="M439.1 265.62 H483.5" stroke="#77AC30" stroke-width="1.2" fill="none"/>
<text x="487.6" y="269.12" class="li" textLength="44.8" lengthAdjust="spacing">follower</text>
<text x="532.0" y="270.02" class="sub">52</text>
<path d="M439.1 280.50 H483.5" stroke="#4DBEEE" stroke-width="1.2" fill="none"/>
<text x="487.6" y="284.00" class="li" textLength="44.8" lengthAdjust="spacing">follower</text>
<text x="532.0" y="284.90" class="sub">62</text>
<path d="M439.1 295.38 H483.5" stroke="#A2142F" stroke-width="1.2" fill="none"/>
<text x="487.6" y="298.88" class="li" textLength="44.8" lengthAdjust="spacing">follower</text>
<text x="532.0" y="299.78" class="sub">72</text>
<path d="M439.1 310.26 H483.5" stroke="#0072BD" stroke-width="1.2" fill="none"/>
<text x="487.6" y="313.76" class="li" textLength="44.8" lengthAdjust="spacing">follower</text>
<text x="532.0" y="314.66" class="sub">82</text>
<path d="M439.1 325.14 H483.5" stroke="#D95319" stroke-width="1.2" stroke-dasharray="9.1 5.05" fill="none"/>
<text x="487.6" y="328.64" class="li" textLength="32.4" lengthAdjust="spacing">leader</text>
<text x="519.7" y="329.54" class="sub">12</text>
<path d="M439.1 340.02 H483.5" stroke="#EDB120" stroke-width="1.2" stroke-dasharray="9.1 5.05" fill="none"/>
<text x="487.6" y="343.52" class="li" textLength="32.4" lengthAdjust="spacing">leader</text>
<text x="519.7" y="344.42" class="sub">22</text>
<path d="M439.1 354.90 H483.5" stroke="#7E2F8E" stroke-width="1.2" stroke-dasharray="9.1 5.05" fill="none"/>
<text x="487.6" y="358.40" class="li" textLength="32.4" lengthAdjust="spacing">leader</text>
<text x="519.7" y="359.30" class="sub">32</text>
<path d="M439.1 369.78 H483.5" stroke="#77AC30" stroke-width="1.2" stroke-dasharray="9.1 5.05" fill="none"/>
<text x="487.6" y="373.28" class="li" textLength="32.4" lengthAdjust="spacing">leader</text>
<text x="519.7" y="374.18" class="sub">42</text>
</svg>
</body></html>
